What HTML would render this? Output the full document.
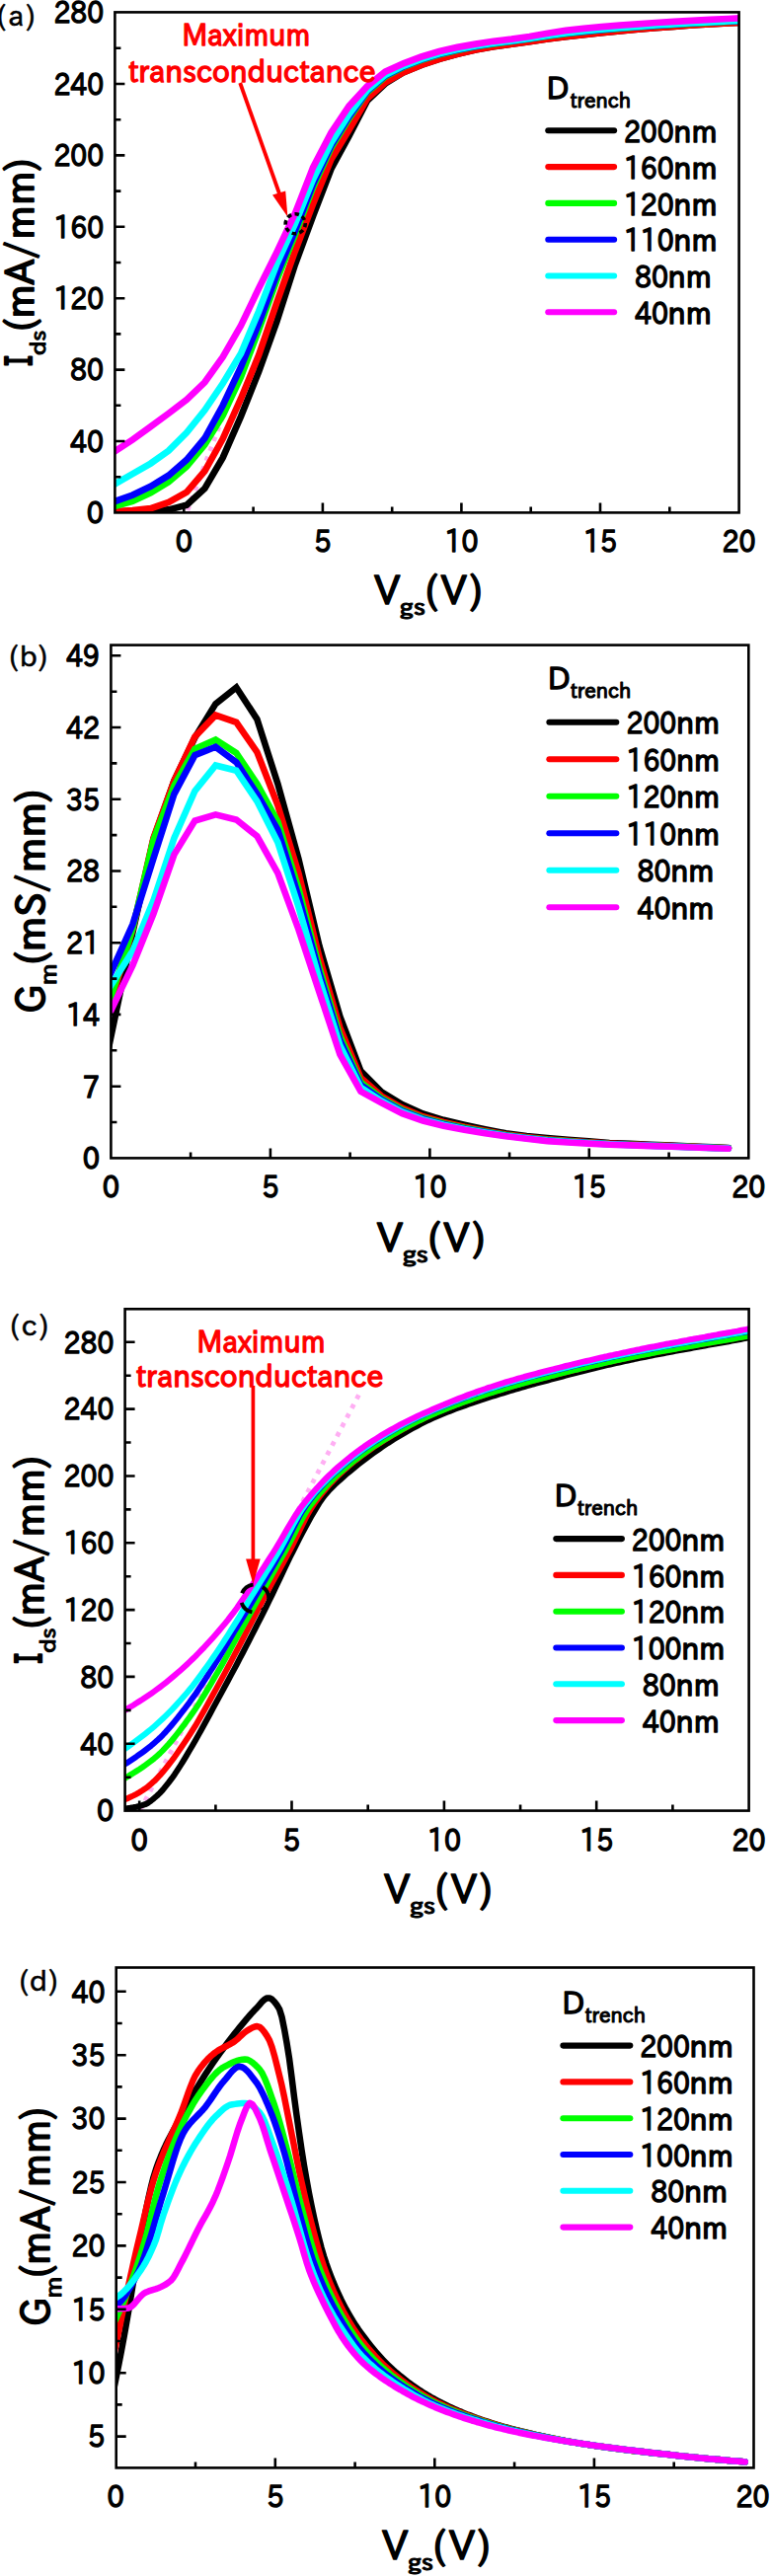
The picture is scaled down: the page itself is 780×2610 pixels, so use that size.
<!DOCTYPE html>
<html lang="en"><head><meta charset="utf-8"><title>Transfer characteristics</title>
<style>html,body{margin:0;padding:0;background:#fff}svg{display:block}</style></head>
<body>
<svg width="780" height="2610" viewBox="0 0 780 2610" font-family="IPAPGothic, IPAGothic, 'Liberation Sans', sans-serif" fill="#000" stroke-linejoin="round">
<rect width="780" height="2610" fill="#fff"/>
<path d="M190 517L296 236" stroke="#ffaef3" stroke-width="4.8" stroke-dasharray="4.6 6.1" fill="none"/>
<clipPath id="cpa"><rect x="116.4" y="12.4" width="632.2" height="507"/></clipPath>
<g clip-path="url(#cpa)" fill="none" stroke-width="6.7" stroke-linecap="butt" stroke-linejoin="miter">
<path d="M112.4 518.9 L134.3 518.3 L152.6 517.6 L170.8 516.4 L189.1 511.7 L207.4 494.9 L225.7 463.7 L244 422 L262.2 376.4 L280.5 325.3 L298.8 268.3 L317.1 218.8 L335.4 171.2 L353.6 137.7 L371.9 102.1 L390.2 84.7 L408.5 73.5 L426.8 65.8 L445 59.8 L463.3 54.7 L481.6 50.5 L499.9 47.2 L518.2 44.6 L536.4 42.1 L554.7 39.5 L573 37.1 L591.3 35.1 L609.6 33.2 L627.8 31.4 L646.1 29.7 L664.4 28.2 L682.7 26.8 L701 25.5 L719.2 24.4 L737.5 23.5 L752.6 22.7" stroke="#000000"/>
<path d="M112.4 518.2 L134.3 517 L152.6 515.2 L170.8 508.9 L189.1 498.6 L207.4 477.3 L225.7 444.6 L244 404 L262.2 359.6 L280.5 306.2 L298.8 254.7 L317.1 206.6 L335.4 161.5 L353.6 131.5 L371.9 100 L390.2 83.7 L408.5 73.3 L426.8 65.8 L445 59.8 L463.3 54.7 L481.6 50.5 L499.9 47.2 L518.2 44.6 L536.4 42.1 L554.7 39.5 L573 37.1 L591.3 35.1 L609.6 33.2 L627.8 31.4 L646.1 29.7 L664.4 28.2 L682.7 26.8 L701 25.5 L719.2 24.4 L737.5 23.5 L752.6 22.7" stroke="#ff0000"/>
<path d="M112.4 514.1 L134.3 507.8 L152.6 499.3 L170.8 488.3 L189.1 472.6 L207.4 450.5 L225.7 420.8 L244 382 L262.2 334 L280.5 283.3 L298.8 238 L317.1 189.9 L335.4 149.8 L353.6 119.9 L371.9 93.4 L390.2 77.6 L408.5 68 L426.8 60.9 L445 55.3 L463.3 50.9 L481.6 47.3 L499.9 44.4 L518.2 42 L536.4 39.5 L554.7 36.7 L573 34.1 L591.3 32.2 L609.6 30.5 L627.8 28.9 L646.1 27.4 L664.4 26.1 L682.7 24.9 L701 23.8 L719.2 22.8 L737.5 21.9 L752.6 21.2" stroke="#00ff00"/>
<path d="M112.4 509.4 L134.3 501.6 L152.6 492.9 L170.8 481.7 L189.1 465.9 L207.4 444 L225.7 410.8 L244 372 L262.2 327.5 L280.5 277.6 L298.8 233.9 L317.1 186.6 L335.4 147.6 L353.6 118 L371.9 92.5 L390.2 76.8 L408.5 67.4 L426.8 60.3 L445 54.8 L463.3 50.4 L481.6 46.9 L499.9 44 L518.2 41.7 L536.4 39.2 L554.7 36.3 L573 33.7 L591.3 31.8 L609.6 30.1 L627.8 28.5 L646.1 27.1 L664.4 25.8 L682.7 24.6 L701 23.5 L719.2 22.5 L737.5 21.6 L752.6 21" stroke="#0000ff"/>
<path d="M112.4 492.6 L134.3 480.2 L152.6 469.6 L170.8 456.7 L189.1 438.3 L207.4 415.6 L225.7 388.5 L244 358.2 L262.2 315.2 L280.5 267 L298.8 226.8 L317.1 181.8 L335.4 144.7 L353.6 115.8 L371.9 91.4 L390.2 76 L408.5 66.8 L426.8 59.8 L445 54.3 L463.3 50 L481.6 46.5 L499.9 43.7 L518.2 41.4 L536.4 38.9 L554.7 36 L573 33.4 L591.3 31.4 L609.6 29.7 L627.8 28.2 L646.1 26.8 L664.4 25.5 L682.7 24.3 L701 23.2 L719.2 22.3 L737.5 21.4 L752.6 20.7" stroke="#00ffff"/>
<path d="M112.4 459.9 L134.3 445.5 L152.6 432.3 L170.8 418.9 L189.1 404.9 L207.4 387.3 L225.7 361.7 L244 329.9 L262.2 292 L280.5 255.3 L298.8 216.5 L317.1 169.6 L335.4 134.4 L353.6 107.4 L371.9 87.4 L390.2 72.7 L408.5 64.4 L426.8 57.5 L445 52 L463.3 47.9 L481.6 44.6 L499.9 41.8 L518.2 39.6 L536.4 37 L554.7 33.8 L573 30.9 L591.3 28.8 L609.6 27.1 L627.8 25.6 L646.1 24.3 L664.4 23 L682.7 21.9 L701 20.8 L719.2 19.9 L737.5 19 L752.6 18.3" stroke="#ff00ff"/>
</g>
<rect x="116.4" y="12.4" width="632.2" height="507" fill="none" stroke="#000" stroke-width="2.6" stroke-linejoin="miter"/>
<path d="M186.3 519.4V509.4M326.9 519.4V509.4M467.4 519.4V509.4M608 519.4V509.4M256.6 519.4V513.4M397.2 519.4V513.4M537.7 519.4V513.4M678.3 519.4V513.4M116.4 447H126.4M116.4 374.6H126.4M116.4 302.2H126.4M116.4 229.8H126.4M116.4 157.4H126.4M116.4 85H126.4M116.4 483.2H122.4M116.4 410.8H122.4M116.4 338.4H122.4M116.4 266H122.4M116.4 193.6H122.4M116.4 121.2H122.4M116.4 48.8H122.4" fill="none" stroke="#000" stroke-width="2.6"/>
<text x="186.3" y="559.4" font-size="31" text-anchor="middle" textLength="17.3" lengthAdjust="spacingAndGlyphs" stroke="#000" stroke-width="1.4">0</text>
<text x="326.9" y="559.4" font-size="31" text-anchor="middle" textLength="17.3" lengthAdjust="spacingAndGlyphs" stroke="#000" stroke-width="1.4">5</text>
<text x="467.4" y="559.4" font-size="31" text-anchor="middle" textLength="34" lengthAdjust="spacingAndGlyphs" stroke="#000" stroke-width="1.4">10</text>
<text x="608" y="559.4" font-size="31" text-anchor="middle" textLength="34" lengthAdjust="spacingAndGlyphs" stroke="#000" stroke-width="1.4">15</text>
<text x="748.6" y="559.4" font-size="31" text-anchor="middle" textLength="34" lengthAdjust="spacingAndGlyphs" stroke="#000" stroke-width="1.4">20</text>
<text x="105.1" y="530.2" font-size="31" text-anchor="end" textLength="17.3" lengthAdjust="spacingAndGlyphs" stroke="#000" stroke-width="1.4">0</text>
<text x="105.1" y="457.8" font-size="31" text-anchor="end" textLength="34" lengthAdjust="spacingAndGlyphs" stroke="#000" stroke-width="1.4">40</text>
<text x="105.1" y="385.4" font-size="31" text-anchor="end" textLength="34" lengthAdjust="spacingAndGlyphs" stroke="#000" stroke-width="1.4">80</text>
<text x="105.1" y="313" font-size="31" text-anchor="end" textLength="50.7" lengthAdjust="spacingAndGlyphs" stroke="#000" stroke-width="1.4">120</text>
<text x="105.1" y="240.6" font-size="31" text-anchor="end" textLength="50.7" lengthAdjust="spacingAndGlyphs" stroke="#000" stroke-width="1.4">160</text>
<text x="105.1" y="168.2" font-size="31" text-anchor="end" textLength="50.7" lengthAdjust="spacingAndGlyphs" stroke="#000" stroke-width="1.4">200</text>
<text x="105.1" y="95.8" font-size="31" text-anchor="end" textLength="50.7" lengthAdjust="spacingAndGlyphs" stroke="#000" stroke-width="1.4">240</text>
<text x="105.1" y="23.4" font-size="31" text-anchor="end" textLength="50.7" lengthAdjust="spacingAndGlyphs" stroke="#000" stroke-width="1.4">280</text>
<text x="379.4" y="611.8" font-size="40" textLength="25.5" lengthAdjust="spacingAndGlyphs" stroke="#000" stroke-width="1.6">V</text>
<text x="404.6" y="623.3" font-size="22.5" textLength="26.3" lengthAdjust="spacingAndGlyphs" stroke="#000" stroke-width="1.1">gs</text>
<text x="430.5" y="611.8" font-size="40" textLength="58.6" lengthAdjust="spacing" stroke="#000" stroke-width="1.6">(V)</text>
<g transform="translate(34 370.3) rotate(-90)">
<text x="-2.5" y="0" font-size="39" textLength="14.5" lengthAdjust="spacingAndGlyphs" stroke="#000" stroke-width="2.2" font-family="IPAGothic, IPAPGothic, 'Liberation Serif', serif">I</text>
<text x="10.2" y="12" font-size="21" textLength="25.3" lengthAdjust="spacingAndGlyphs" stroke="#000" stroke-width="1.1">ds</text>
<text x="34.2" y="0" font-size="39" textLength="176" lengthAdjust="spacingAndGlyphs" stroke="#000" stroke-width="1.6">(mA/mm)</text>
</g>
<text x="-3.5" y="26" font-size="29" textLength="39.5" lengthAdjust="spacing" stroke="#000" stroke-width="0.6">(a)</text>
<text x="553.8" y="99.6" font-size="30" textLength="22.7" lengthAdjust="spacingAndGlyphs" stroke="#000" stroke-width="1.4">D</text>
<text x="577.5" y="108.8" font-size="20" textLength="61.5" lengthAdjust="spacingAndGlyphs" stroke="#000" stroke-width="1.1">trench</text>
<path d="M555.3 132.3H622.1" stroke="#000000" stroke-width="6.1" stroke-linecap="round" fill="none"/>
<text x="631.9" y="143.9" font-size="31" textLength="50.7" lengthAdjust="spacingAndGlyphs" stroke="#000" stroke-width="1.4">200</text>
<text x="682.3" y="143.9" font-size="30" textLength="44.3" lengthAdjust="spacingAndGlyphs" stroke="#000" stroke-width="1.4">nm</text>
<path d="M555.3 169.1H622.1" stroke="#ff0000" stroke-width="6.1" stroke-linecap="round" fill="none"/>
<text x="631.9" y="180.7" font-size="31" textLength="50.7" lengthAdjust="spacingAndGlyphs" stroke="#000" stroke-width="1.4">160</text>
<text x="682.3" y="180.7" font-size="30" textLength="44.3" lengthAdjust="spacingAndGlyphs" stroke="#000" stroke-width="1.4">nm</text>
<path d="M555.3 205.9H622.1" stroke="#00ff00" stroke-width="6.1" stroke-linecap="round" fill="none"/>
<text x="631.9" y="217.5" font-size="31" textLength="50.7" lengthAdjust="spacingAndGlyphs" stroke="#000" stroke-width="1.4">120</text>
<text x="682.3" y="217.5" font-size="30" textLength="44.3" lengthAdjust="spacingAndGlyphs" stroke="#000" stroke-width="1.4">nm</text>
<path d="M555.3 242.7H622.1" stroke="#0000ff" stroke-width="6.1" stroke-linecap="round" fill="none"/>
<text x="631.9" y="254.3" font-size="31" textLength="50.7" lengthAdjust="spacingAndGlyphs" stroke="#000" stroke-width="1.4">110</text>
<text x="682.3" y="254.3" font-size="30" textLength="44.3" lengthAdjust="spacingAndGlyphs" stroke="#000" stroke-width="1.4">nm</text>
<path d="M555.3 279.5H622.1" stroke="#00ffff" stroke-width="6.1" stroke-linecap="round" fill="none"/>
<text x="642.9" y="291.1" font-size="31" textLength="34" lengthAdjust="spacingAndGlyphs" stroke="#000" stroke-width="1.4">80</text>
<text x="676.6" y="291.1" font-size="30" textLength="44.3" lengthAdjust="spacingAndGlyphs" stroke="#000" stroke-width="1.4">nm</text>
<path d="M555.3 316.3H622.1" stroke="#ff00ff" stroke-width="6.1" stroke-linecap="round" fill="none"/>
<text x="642.9" y="327.9" font-size="31" textLength="34" lengthAdjust="spacingAndGlyphs" stroke="#000" stroke-width="1.4">40</text>
<text x="676.6" y="327.9" font-size="30" textLength="44.3" lengthAdjust="spacingAndGlyphs" stroke="#000" stroke-width="1.4">nm</text>
<text x="184.4" y="46" font-size="30" textLength="130" lengthAdjust="spacingAndGlyphs" fill="#ff0000" stroke="#ff0000" stroke-width="1.4">Maximum</text>
<text x="129.9" y="83" font-size="30" textLength="250.6" lengthAdjust="spacingAndGlyphs" fill="#ff0000" stroke="#ff0000" stroke-width="1.4">transconductance</text>
<path d="M243.2 84L283.3 197" stroke="#ff0000" stroke-width="3.8" fill="none"/>
<path d="M291.4 219.8L276 197.6L289.2 193.5Z" fill="#ff0000"/>
<circle cx="299.2" cy="226.8" r="10" fill="none" stroke="#000" stroke-width="3.6" stroke-dasharray="4.5 3.35" stroke-dashoffset="1"/>
<clipPath id="cpb"><rect x="112.4" y="653.6" width="645.9" height="519.8"/></clipPath>
<g clip-path="url(#cpb)" fill="none" stroke-width="6.6" stroke-linecap="round" stroke-linejoin="miter">
<path d="M107.4 1074.4 L113.4 1045.6 L134.4 944.8 L155.4 850.3 L176.4 791 L197.4 747.4 L218.4 713.1 L239.4 696.5 L260.4 728.7 L281.4 794.2 L302.4 870 L323.4 958.3 L344.4 1030 L365.4 1085.1 L386.4 1106.4 L407.4 1119 L428.4 1128.5 L449.4 1134.8 L470.4 1139.7 L491.4 1144.2 L512.4 1148.3 L533.4 1151.1 L554.4 1153.1 L575.4 1154.8 L596.4 1156.4 L617.4 1158 L638.4 1158.9 L659.4 1159.8 L680.4 1160.6 L701.4 1161.5 L722.4 1162.4 L737.9 1163" stroke="#000000"/>
<path d="M107.4 1032.5 L113.4 1012.4 L134.4 941.7 L155.4 849.2 L176.4 791 L197.4 746.4 L218.4 724.6 L239.4 731.8 L260.4 762 L281.4 816 L302.4 884.6 L323.4 969.8 L344.4 1041.2 L365.4 1092 L386.4 1110.5 L407.4 1122.5 L428.4 1131.2 L449.4 1137 L470.4 1141.7 L491.4 1145.7 L512.4 1149.4 L533.4 1152.1 L554.4 1154.2 L575.4 1155.8 L596.4 1157.2 L617.4 1158.6 L638.4 1159.5 L659.4 1160.3 L680.4 1161.1 L701.4 1161.9 L722.4 1162.7 L737.9 1163.3" stroke="#ff0000"/>
<path d="M107.4 1026.2 L113.4 1007.2 L134.4 940.7 L155.4 851.3 L176.4 796.2 L197.4 758.8 L218.4 749.5 L239.4 763 L260.4 794.2 L281.4 832.6 L302.4 900.1 L323.4 980.1 L344.4 1049.6 L365.4 1096.6 L386.4 1112.9 L407.4 1124.5 L428.4 1132.7 L449.4 1138.3 L470.4 1142.8 L491.4 1146.6 L512.4 1150.1 L533.4 1152.7 L554.4 1154.9 L575.4 1156.4 L596.4 1157.7 L617.4 1159 L638.4 1159.8 L659.4 1160.6 L680.4 1161.3 L701.4 1162.1 L722.4 1162.9 L737.9 1163.4" stroke="#00ff00"/>
<path d="M107.4 996.6 L113.4 983.3 L134.4 936.5 L155.4 870 L176.4 804.6 L197.4 765.1 L218.4 756.8 L239.4 772.3 L260.4 804.6 L281.4 840.9 L302.4 908.5 L323.4 985.7 L344.4 1054.2 L365.4 1099.1 L386.4 1114.2 L407.4 1125.6 L428.4 1133.5 L449.4 1139.1 L470.4 1143.4 L491.4 1147.1 L512.4 1150.4 L533.4 1153 L554.4 1155.2 L575.4 1156.7 L596.4 1158 L617.4 1159.2 L638.4 1160 L659.4 1160.7 L680.4 1161.5 L701.4 1162.2 L722.4 1163 L737.9 1163.5" stroke="#0000ff"/>
<path d="M107.4 1006.3 L113.4 996.8 L134.4 963.5 L155.4 912.6 L176.4 849.2 L197.4 801.4 L218.4 775.5 L239.4 780.7 L260.4 811.8 L281.4 853.4 L302.4 918.8 L323.4 992 L344.4 1059.2 L365.4 1101.7 L386.4 1115.5 L407.4 1126.7 L428.4 1134.4 L449.4 1139.8 L470.4 1144 L491.4 1147.6 L512.4 1150.8 L533.4 1153.3 L554.4 1155.6 L575.4 1157 L596.4 1158.2 L617.4 1159.4 L638.4 1160.2 L659.4 1160.9 L680.4 1161.6 L701.4 1162.4 L722.4 1163.1 L737.9 1163.6" stroke="#00ffff"/>
<path d="M107.4 1034.2 L113.4 1021.7 L134.4 978.1 L155.4 926.1 L176.4 865.9 L197.4 831.6 L218.4 825.3 L239.4 830.5 L260.4 847.2 L281.4 884.6 L302.4 941.7 L323.4 1005.1 L344.4 1068.5 L365.4 1105.9 L386.4 1117.3 L407.4 1128.2 L428.4 1135.5 L449.4 1140.7 L470.4 1144.8 L491.4 1148.2 L512.4 1151.2 L533.4 1153.8 L554.4 1156.1 L575.4 1157.5 L596.4 1158.6 L617.4 1159.7 L638.4 1160.4 L659.4 1161.1 L680.4 1161.8 L701.4 1162.5 L722.4 1163.2 L737.9 1163.7" stroke="#ff00ff"/>
</g>
<rect x="112.4" y="653.6" width="645.9" height="519.8" fill="none" stroke="#000" stroke-width="2.6" stroke-linejoin="miter"/>
<path d="M273.9 1173.4V1163.4M435.4 1173.4V1163.4M596.8 1173.4V1163.4M193.1 1173.4V1167.4M354.6 1173.4V1167.4M516.1 1173.4V1167.4M677.6 1173.4V1167.4M112.4 1100.7H122.4M112.4 1027.9H122.4M112.4 955.2H122.4M112.4 882.5H122.4M112.4 809.8H122.4M112.4 737H122.4M112.4 664.3H122.4M112.4 1137H118.4M112.4 1064.3H118.4M112.4 991.6H118.4M112.4 918.8H118.4M112.4 846.1H118.4M112.4 773.4H118.4M112.4 700.7H118.4" fill="none" stroke="#000" stroke-width="2.6"/>
<text x="112.4" y="1213.4" font-size="31" text-anchor="middle" textLength="17.3" lengthAdjust="spacingAndGlyphs" stroke="#000" stroke-width="1.4">0</text>
<text x="273.9" y="1213.4" font-size="31" text-anchor="middle" textLength="17.3" lengthAdjust="spacingAndGlyphs" stroke="#000" stroke-width="1.4">5</text>
<text x="435.4" y="1213.4" font-size="31" text-anchor="middle" textLength="34" lengthAdjust="spacingAndGlyphs" stroke="#000" stroke-width="1.4">10</text>
<text x="596.8" y="1213.4" font-size="31" text-anchor="middle" textLength="34" lengthAdjust="spacingAndGlyphs" stroke="#000" stroke-width="1.4">15</text>
<text x="758.3" y="1213.4" font-size="31" text-anchor="middle" textLength="34" lengthAdjust="spacingAndGlyphs" stroke="#000" stroke-width="1.4">20</text>
<text x="101.1" y="1184.2" font-size="31" text-anchor="end" textLength="17.3" lengthAdjust="spacingAndGlyphs" stroke="#000" stroke-width="1.4">0</text>
<text x="101.1" y="1111.5" font-size="31" text-anchor="end" textLength="17.3" lengthAdjust="spacingAndGlyphs" stroke="#000" stroke-width="1.4">7</text>
<text x="101.1" y="1038.7" font-size="31" text-anchor="end" textLength="34" lengthAdjust="spacingAndGlyphs" stroke="#000" stroke-width="1.4">14</text>
<text x="101.1" y="966" font-size="31" text-anchor="end" textLength="34" lengthAdjust="spacingAndGlyphs" stroke="#000" stroke-width="1.4">21</text>
<text x="101.1" y="893.3" font-size="31" text-anchor="end" textLength="34" lengthAdjust="spacingAndGlyphs" stroke="#000" stroke-width="1.4">28</text>
<text x="101.1" y="820.5" font-size="31" text-anchor="end" textLength="34" lengthAdjust="spacingAndGlyphs" stroke="#000" stroke-width="1.4">35</text>
<text x="101.1" y="747.8" font-size="31" text-anchor="end" textLength="34" lengthAdjust="spacingAndGlyphs" stroke="#000" stroke-width="1.4">42</text>
<text x="101.1" y="675.1" font-size="31" text-anchor="end" textLength="34" lengthAdjust="spacingAndGlyphs" stroke="#000" stroke-width="1.4">49</text>
<text x="382.2" y="1267.9" font-size="40" textLength="25.5" lengthAdjust="spacingAndGlyphs" stroke="#000" stroke-width="1.6">V</text>
<text x="407.4" y="1279.4" font-size="22.5" textLength="26.3" lengthAdjust="spacingAndGlyphs" stroke="#000" stroke-width="1.1">gs</text>
<text x="433.3" y="1267.9" font-size="40" textLength="58.6" lengthAdjust="spacing" stroke="#000" stroke-width="1.6">(V)</text>
<g transform="translate(45.2 1025.3) rotate(-90)">
<text x="-1.2" y="0" font-size="39.5" textLength="28.5" lengthAdjust="spacingAndGlyphs" stroke="#000" stroke-width="1.6">G</text>
<text x="27" y="12" font-size="23" textLength="22" lengthAdjust="spacingAndGlyphs" stroke="#000" stroke-width="1.1">m</text>
<text x="47.5" y="0" font-size="39" textLength="178.5" lengthAdjust="spacingAndGlyphs" stroke="#000" stroke-width="1.6">(mS/mm)</text>
</g>
<text x="9" y="675.4" font-size="29" textLength="39.5" lengthAdjust="spacing" stroke="#000" stroke-width="0.6">(b)</text>
<text x="554.9" y="698.2" font-size="30" textLength="22.7" lengthAdjust="spacingAndGlyphs" stroke="#000" stroke-width="1.4">D</text>
<text x="577.8" y="707" font-size="20" textLength="61.5" lengthAdjust="spacingAndGlyphs" stroke="#000" stroke-width="1.1">trench</text>
<path d="M556.4 731.7H624.3" stroke="#000000" stroke-width="6.1" stroke-linecap="round" fill="none"/>
<text x="634.5" y="743.3" font-size="31" textLength="50.7" lengthAdjust="spacingAndGlyphs" stroke="#000" stroke-width="1.4">200</text>
<text x="684.9" y="743.3" font-size="30" textLength="44.3" lengthAdjust="spacingAndGlyphs" stroke="#000" stroke-width="1.4">nm</text>
<path d="M556.4 769.2H624.3" stroke="#ff0000" stroke-width="6.1" stroke-linecap="round" fill="none"/>
<text x="634.5" y="780.8" font-size="31" textLength="50.7" lengthAdjust="spacingAndGlyphs" stroke="#000" stroke-width="1.4">160</text>
<text x="684.9" y="780.8" font-size="30" textLength="44.3" lengthAdjust="spacingAndGlyphs" stroke="#000" stroke-width="1.4">nm</text>
<path d="M556.4 806.7H624.3" stroke="#00ff00" stroke-width="6.1" stroke-linecap="round" fill="none"/>
<text x="634.5" y="818.3" font-size="31" textLength="50.7" lengthAdjust="spacingAndGlyphs" stroke="#000" stroke-width="1.4">120</text>
<text x="684.9" y="818.3" font-size="30" textLength="44.3" lengthAdjust="spacingAndGlyphs" stroke="#000" stroke-width="1.4">nm</text>
<path d="M556.4 844.2H624.3" stroke="#0000ff" stroke-width="6.1" stroke-linecap="round" fill="none"/>
<text x="634.5" y="855.8" font-size="31" textLength="50.7" lengthAdjust="spacingAndGlyphs" stroke="#000" stroke-width="1.4">110</text>
<text x="684.9" y="855.8" font-size="30" textLength="44.3" lengthAdjust="spacingAndGlyphs" stroke="#000" stroke-width="1.4">nm</text>
<path d="M556.4 881.7H624.3" stroke="#00ffff" stroke-width="6.1" stroke-linecap="round" fill="none"/>
<text x="645.5" y="893.3" font-size="31" textLength="34" lengthAdjust="spacingAndGlyphs" stroke="#000" stroke-width="1.4">80</text>
<text x="679.2" y="893.3" font-size="30" textLength="44.3" lengthAdjust="spacingAndGlyphs" stroke="#000" stroke-width="1.4">nm</text>
<path d="M556.4 919.2H624.3" stroke="#ff00ff" stroke-width="6.1" stroke-linecap="round" fill="none"/>
<text x="645.5" y="930.8" font-size="31" textLength="34" lengthAdjust="spacingAndGlyphs" stroke="#000" stroke-width="1.4">40</text>
<text x="679.2" y="930.8" font-size="30" textLength="44.3" lengthAdjust="spacingAndGlyphs" stroke="#000" stroke-width="1.4">nm</text>
<path d="M142 1834L366 1408.5" stroke="#ffaef3" stroke-width="4.8" stroke-dasharray="4.6 6.1" fill="none"/>
<clipPath id="cpc"><rect x="126.6" y="1326.3" width="632" height="508.3"/></clipPath>
<g clip-path="url(#cpc)" fill="none" stroke-width="6.0" stroke-linecap="butt" stroke-linejoin="round">
<path d="M120 1833.5 L123 1833.1 L126 1832.7 L129 1832.2 L132 1831.8 L135 1831.3 L138 1830.7 L141 1830 L144 1829.2 L147 1828.2 L150 1826.7 L153 1824.5 L156 1822.1 L159 1819.5 L162 1816.6 L165 1813.4 L168 1809.7 L171 1805.9 L174 1801.9 L177 1797.7 L180 1793.2 L183 1788.5 L186 1783.6 L189 1778.6 L192 1773.5 L195 1768.5 L198 1763.3 L201 1757.9 L204 1752.5 L207 1747 L210 1741.5 L213 1736 L216 1730.4 L219 1724.9 L222 1719.4 L225 1713.8 L228 1708.3 L231 1702.8 L234 1697.2 L237 1691.6 L240 1686 L243 1680.2 L246 1674.5 L249 1668.7 L252 1662.9 L255 1657 L258 1651.1 L261 1645.2 L264 1639.3 L267 1633.3 L270 1627.3 L273 1621.2 L276 1615.1 L279 1608.8 L282 1602.5 L285 1596.2 L288 1589.8 L291 1583.5 L294 1577.3 L297 1571.3 L300 1565.4 L303 1559.5 L306 1553.7 L309 1548 L312 1542.5 L315 1537.1 L318 1532 L321 1526.9 L324 1522 L327 1517.7 L330 1513.9 L333 1510.5 L336 1507.4 L339 1504.4 L342 1501.6 L345 1498.9 L348 1496.2 L351 1493.6 L354 1491.1 L357 1488.6 L360 1486.1 L363 1483.7 L366 1481.4 L369 1479.1 L372 1476.8 L375 1474.6 L378 1472.4 L381 1470.3 L384 1468.2 L387 1466.1 L390 1464.1 L393 1462.1 L396 1460.2 L399 1458.3 L402 1456.5 L405 1454.7 L408 1452.9 L411 1451.1 L414 1449.4 L417 1447.7 L420 1446.1 L423 1444.5 L426 1442.9 L429 1441.4 L432 1439.9 L435 1438.5 L438 1437.1 L441 1435.8 L444 1434.5 L447 1433.2 L450 1432 L453 1430.8 L456 1429.6 L459 1428.4 L462 1427.3 L465 1426.2 L468 1425.1 L471 1424.1 L474 1423 L477 1422 L480 1420.9 L483 1419.9 L486 1418.9 L489 1418 L492 1417 L495 1416 L498 1415 L501 1414.1 L504 1413.1 L507 1412.2 L510 1411.3 L513 1410.4 L516 1409.4 L519 1408.6 L522 1407.7 L525 1406.8 L528 1405.9 L531 1405.1 L534 1404.2 L537 1403.4 L540 1402.5 L543 1401.7 L546 1400.9 L549 1400.1 L552 1399.3 L555 1398.5 L558 1397.7 L561 1396.9 L564 1396.1 L567 1395.3 L570 1394.5 L573 1393.7 L576 1392.9 L579 1392.2 L582 1391.4 L585 1390.6 L588 1389.9 L591 1389.1 L594 1388.3 L597 1387.6 L600 1386.9 L603 1386.1 L606 1385.4 L609 1384.7 L612 1383.9 L615 1383.2 L618 1382.5 L621 1381.8 L624 1381.1 L627 1380.5 L630 1379.8 L633 1379.1 L636 1378.5 L639 1377.8 L642 1377.2 L645 1376.5 L648 1375.9 L651 1375.3 L654 1374.7 L657 1374.1 L660 1373.5 L663 1372.9 L666 1372.3 L669 1371.7 L672 1371.2 L675 1370.6 L678 1370 L681 1369.5 L684 1368.9 L687 1368.3 L690 1367.8 L693 1367.2 L696 1366.7 L699 1366.2 L702 1365.6 L705 1365.1 L708 1364.5 L711 1364 L714 1363.5 L717 1362.9 L720 1362.4 L723 1361.9 L726 1361.3 L729 1360.8 L732 1360.2 L735 1359.7 L738 1359.2 L741 1358.6 L744 1358.1 L747 1357.5 L750 1357 L753 1356.4 L756 1355.9 L759 1355.3 L762 1354.8 L765 1354.2 L768 1353.7" stroke="#000000"/>
<path d="M120 1825.5 L123 1824.5 L126 1823.4 L129 1822.2 L132 1820.8 L135 1819.4 L138 1817.8 L141 1816.1 L144 1814.3 L147 1812.3 L150 1810.1 L153 1807.5 L156 1804.8 L159 1801.8 L162 1798.7 L165 1795.3 L168 1791.7 L171 1787.9 L174 1784 L177 1779.9 L180 1775.6 L183 1771.3 L186 1766.9 L189 1762.4 L192 1757.9 L195 1753.2 L198 1748.4 L201 1743.3 L204 1738.1 L207 1732.8 L210 1727.4 L213 1722 L216 1716.5 L219 1711.1 L222 1705.6 L225 1700.1 L228 1694.6 L231 1689 L234 1683.4 L237 1677.7 L240 1672 L243 1666.3 L246 1660.5 L249 1654.7 L252 1648.8 L255 1643 L258 1637.1 L261 1631.3 L264 1625.5 L267 1619.8 L270 1614.2 L273 1608.6 L276 1603.1 L279 1597.6 L282 1592.2 L285 1586.7 L288 1581.2 L291 1575.6 L294 1570 L297 1564.1 L300 1558 L303 1551.7 L306 1545.5 L309 1539.4 L312 1533.7 L315 1528.5 L318 1524 L321 1519.8 L324 1515.9 L327 1512.1 L330 1508.5 L333 1505.1 L336 1501.8 L339 1498.7 L342 1495.7 L345 1492.8 L348 1490 L351 1487.4 L354 1484.8 L357 1482.3 L360 1479.8 L363 1477.5 L366 1475.2 L369 1473 L372 1470.8 L375 1468.7 L378 1466.6 L381 1464.6 L384 1462.6 L387 1460.7 L390 1458.8 L393 1457 L396 1455.1 L399 1453.3 L402 1451.6 L405 1449.8 L408 1448.1 L411 1446.5 L414 1444.8 L417 1443.2 L420 1441.7 L423 1440.1 L426 1438.7 L429 1437.2 L432 1435.8 L435 1434.4 L438 1433.1 L441 1431.8 L444 1430.5 L447 1429.3 L450 1428 L453 1426.8 L456 1425.6 L459 1424.5 L462 1423.3 L465 1422.2 L468 1421.1 L471 1420 L474 1419 L477 1417.9 L480 1416.9 L483 1415.9 L486 1414.8 L489 1413.9 L492 1412.9 L495 1411.9 L498 1411 L501 1410 L504 1409.1 L507 1408.2 L510 1407.2 L513 1406.3 L516 1405.5 L519 1404.6 L522 1403.7 L525 1402.9 L528 1402 L531 1401.2 L534 1400.4 L537 1399.6 L540 1398.8 L543 1398 L546 1397.2 L549 1396.4 L552 1395.6 L555 1394.8 L558 1394.1 L561 1393.3 L564 1392.5 L567 1391.8 L570 1391 L573 1390.3 L576 1389.5 L579 1388.8 L582 1388.1 L585 1387.3 L588 1386.6 L591 1385.9 L594 1385.1 L597 1384.4 L600 1383.7 L603 1383 L606 1382.3 L609 1381.6 L612 1380.9 L615 1380.3 L618 1379.6 L621 1378.9 L624 1378.3 L627 1377.6 L630 1377 L633 1376.3 L636 1375.7 L639 1375.1 L642 1374.5 L645 1373.8 L648 1373.2 L651 1372.7 L654 1372.1 L657 1371.5 L660 1370.9 L663 1370.3 L666 1369.8 L669 1369.2 L672 1368.7 L675 1368.1 L678 1367.6 L681 1367 L684 1366.5 L687 1365.9 L690 1365.4 L693 1364.9 L696 1364.4 L699 1363.8 L702 1363.3 L705 1362.8 L708 1362.3 L711 1361.7 L714 1361.2 L717 1360.7 L720 1360.2 L723 1359.6 L726 1359.1 L729 1358.6 L732 1358.1 L735 1357.5 L738 1357 L741 1356.5 L744 1356 L747 1355.4 L750 1354.9 L753 1354.3 L756 1353.8 L759 1353.2 L762 1352.7 L765 1352.1 L768 1351.6" stroke="#ff0000"/>
<path d="M120 1805.5 L123 1803.8 L126 1802.1 L129 1800.3 L132 1798.4 L135 1796.5 L138 1794.6 L141 1792.7 L144 1790.7 L147 1788.6 L150 1786.4 L153 1784.2 L156 1781.8 L159 1779.2 L162 1776.5 L165 1773.5 L168 1770.3 L171 1767 L174 1763.5 L177 1759.8 L180 1756 L183 1752.1 L186 1748.2 L189 1744.1 L192 1740 L195 1735.8 L198 1731.4 L201 1726.8 L204 1722 L207 1717.1 L210 1712.1 L213 1707.1 L216 1702 L219 1696.8 L222 1691.7 L225 1686.4 L228 1681 L231 1675.5 L234 1669.9 L237 1664.4 L240 1658.9 L243 1653.5 L246 1648.1 L249 1642.7 L252 1637.4 L255 1632 L258 1626.6 L261 1621.3 L264 1615.9 L267 1610.6 L270 1605.2 L273 1599.9 L276 1594.6 L279 1589.3 L282 1583.9 L285 1578.6 L288 1573.2 L291 1567.8 L294 1562.2 L297 1556.4 L300 1550.5 L303 1544.7 L306 1539.1 L309 1533.8 L312 1528.9 L315 1524.6 L318 1520.6 L321 1516.8 L324 1513.2 L327 1509.7 L330 1506.4 L333 1503.2 L336 1500.1 L339 1497.2 L342 1494.3 L345 1491.6 L348 1488.9 L351 1486.4 L354 1483.9 L357 1481.4 L360 1479.1 L363 1476.8 L366 1474.5 L369 1472.3 L372 1470.2 L375 1468.1 L378 1466.1 L381 1464.1 L384 1462.2 L387 1460.3 L390 1458.4 L393 1456.6 L396 1454.8 L399 1453 L402 1451.3 L405 1449.6 L408 1447.9 L411 1446.3 L414 1444.7 L417 1443.1 L420 1441.6 L423 1440.1 L426 1438.7 L429 1437.2 L432 1435.8 L435 1434.5 L438 1433.2 L441 1431.9 L444 1430.6 L447 1429.4 L450 1428.2 L453 1427 L456 1425.8 L459 1424.6 L462 1423.5 L465 1422.4 L468 1421.3 L471 1420.2 L474 1419.1 L477 1418.1 L480 1417 L483 1416 L486 1415 L489 1414 L492 1413 L495 1412 L498 1411.1 L501 1410.1 L504 1409.2 L507 1408.3 L510 1407.4 L513 1406.5 L516 1405.6 L519 1404.7 L522 1403.9 L525 1403 L528 1402.2 L531 1401.4 L534 1400.5 L537 1399.7 L540 1398.9 L543 1398.1 L546 1397.3 L549 1396.5 L552 1395.8 L555 1395 L558 1394.2 L561 1393.5 L564 1392.7 L567 1391.9 L570 1391.2 L573 1390.4 L576 1389.7 L579 1388.9 L582 1388.2 L585 1387.5 L588 1386.7 L591 1386 L594 1385.3 L597 1384.6 L600 1383.9 L603 1383.2 L606 1382.5 L609 1381.8 L612 1381.1 L615 1380.4 L618 1379.7 L621 1379.1 L624 1378.4 L627 1377.8 L630 1377.1 L633 1376.5 L636 1375.9 L639 1375.2 L642 1374.6 L645 1374 L648 1373.4 L651 1372.8 L654 1372.2 L657 1371.7 L660 1371.1 L663 1370.5 L666 1369.9 L669 1369.4 L672 1368.8 L675 1368.3 L678 1367.7 L681 1367.2 L684 1366.7 L687 1366.1 L690 1365.6 L693 1365.1 L696 1364.5 L699 1364 L702 1363.5 L705 1363 L708 1362.4 L711 1361.9 L714 1361.4 L717 1360.9 L720 1360.4 L723 1359.8 L726 1359.3 L729 1358.8 L732 1358.3 L735 1357.7 L738 1357.2 L741 1356.7 L744 1356.2 L747 1355.6 L750 1355.1 L753 1354.5 L756 1354 L759 1353.4 L762 1352.9 L765 1352.3 L768 1351.8" stroke="#00ff00"/>
<path d="M120 1791.5 L123 1789.7 L126 1787.8 L129 1785.9 L132 1783.9 L135 1781.9 L138 1779.9 L141 1777.8 L144 1775.7 L147 1773.5 L150 1771.2 L153 1768.8 L156 1766.2 L159 1763.6 L162 1760.8 L165 1757.8 L168 1754.6 L171 1751.2 L174 1747.7 L177 1744.1 L180 1740.4 L183 1736.5 L186 1732.7 L189 1728.7 L192 1724.8 L195 1720.6 L198 1716.4 L201 1712 L204 1707.4 L207 1702.8 L210 1698.2 L213 1693.5 L216 1688.7 L219 1683.9 L222 1679.1 L225 1674.1 L228 1669 L231 1663.9 L234 1658.7 L237 1653.6 L240 1648.6 L243 1643.6 L246 1638.6 L249 1633.6 L252 1628.6 L255 1623.6 L258 1618.5 L261 1613.4 L264 1608.3 L267 1603.2 L270 1598 L273 1592.9 L276 1587.7 L279 1582.4 L282 1577.1 L285 1571.8 L288 1566.3 L291 1560.5 L294 1554.5 L297 1548.4 L300 1542.4 L303 1536.6 L306 1531.3 L309 1526.6 L312 1522.4 L315 1518.5 L318 1514.7 L321 1511.1 L324 1507.7 L327 1504.4 L330 1501.2 L333 1498.2 L336 1495.2 L339 1492.4 L342 1489.7 L345 1487 L348 1484.4 L351 1481.9 L354 1479.4 L357 1477 L360 1474.7 L363 1472.4 L366 1470.2 L369 1468 L372 1465.9 L375 1463.8 L378 1461.8 L381 1459.9 L384 1457.9 L387 1456 L390 1454.2 L393 1452.4 L396 1450.6 L399 1448.9 L402 1447.2 L405 1445.5 L408 1443.9 L411 1442.3 L414 1440.8 L417 1439.2 L420 1437.8 L423 1436.3 L426 1434.9 L429 1433.5 L432 1432.1 L435 1430.8 L438 1429.5 L441 1428.2 L444 1426.9 L447 1425.6 L450 1424.4 L453 1423.2 L456 1421.9 L459 1420.7 L462 1419.6 L465 1418.4 L468 1417.3 L471 1416.1 L474 1415 L477 1413.9 L480 1412.8 L483 1411.8 L486 1410.7 L489 1409.7 L492 1408.7 L495 1407.7 L498 1406.7 L501 1405.7 L504 1404.8 L507 1403.9 L510 1402.9 L513 1402 L516 1401.1 L519 1400.3 L522 1399.4 L525 1398.5 L528 1397.7 L531 1396.9 L534 1396 L537 1395.2 L540 1394.4 L543 1393.6 L546 1392.8 L549 1392 L552 1391.3 L555 1390.5 L558 1389.7 L561 1389 L564 1388.2 L567 1387.5 L570 1386.7 L573 1386 L576 1385.2 L579 1384.5 L582 1383.7 L585 1383 L588 1382.3 L591 1381.6 L594 1380.9 L597 1380.2 L600 1379.5 L603 1378.8 L606 1378.1 L609 1377.4 L612 1376.8 L615 1376.1 L618 1375.4 L621 1374.8 L624 1374.1 L627 1373.5 L630 1372.8 L633 1372.2 L636 1371.6 L639 1370.9 L642 1370.3 L645 1369.7 L648 1369.1 L651 1368.5 L654 1367.9 L657 1367.3 L660 1366.7 L663 1366.1 L666 1365.6 L669 1365 L672 1364.4 L675 1363.9 L678 1363.3 L681 1362.7 L684 1362.2 L687 1361.6 L690 1361.1 L693 1360.5 L696 1360 L699 1359.5 L702 1358.9 L705 1358.4 L708 1357.8 L711 1357.3 L714 1356.8 L717 1356.2 L720 1355.7 L723 1355.2 L726 1354.6 L729 1354.1 L732 1353.5 L735 1353 L738 1352.5 L741 1351.9 L744 1351.4 L747 1350.8 L750 1350.3 L753 1349.7 L756 1349.2 L759 1348.6 L762 1348.1 L765 1347.5 L768 1347" stroke="#0000ff"/>
<path d="M120 1776.5 L123 1774.4 L126 1772.3 L129 1770.2 L132 1768 L135 1765.8 L138 1763.6 L141 1761.4 L144 1759.1 L147 1756.8 L150 1754.4 L153 1752 L156 1749.4 L159 1746.8 L162 1744.1 L165 1741.3 L168 1738.4 L171 1735.4 L174 1732.3 L177 1729.1 L180 1725.8 L183 1722.5 L186 1719.1 L189 1715.6 L192 1712 L195 1708.3 L198 1704.4 L201 1700.4 L204 1696.3 L207 1692.1 L210 1687.9 L213 1683.6 L216 1679.2 L219 1674.9 L222 1670.4 L225 1665.9 L228 1661.2 L231 1656.5 L234 1651.7 L237 1646.9 L240 1642.1 L243 1637.2 L246 1632.1 L249 1627.1 L252 1622 L255 1617 L258 1612.1 L261 1607.2 L264 1602.3 L267 1597.4 L270 1592.5 L273 1587.6 L276 1582.6 L279 1577.6 L282 1572.6 L285 1567.4 L288 1561.9 L291 1556.2 L294 1550.4 L297 1544.7 L300 1539.2 L303 1533.9 L306 1529 L309 1524.7 L312 1520.8 L315 1517 L318 1513.4 L321 1509.9 L324 1506.6 L327 1503.4 L330 1500.3 L333 1497.3 L336 1494.4 L339 1491.6 L342 1488.9 L345 1486.2 L348 1483.7 L351 1481.2 L354 1478.7 L357 1476.3 L360 1474 L363 1471.8 L366 1469.6 L369 1467.4 L372 1465.3 L375 1463.2 L378 1461.2 L381 1459.3 L384 1457.4 L387 1455.5 L390 1453.6 L393 1451.8 L396 1450.1 L399 1448.4 L402 1446.7 L405 1445 L408 1443.4 L411 1441.8 L414 1440.3 L417 1438.8 L420 1437.3 L423 1435.9 L426 1434.4 L429 1433.1 L432 1431.7 L435 1430.4 L438 1429.1 L441 1427.8 L444 1426.5 L447 1425.2 L450 1424 L453 1422.8 L456 1421.5 L459 1420.3 L462 1419.2 L465 1418 L468 1416.8 L471 1415.7 L474 1414.6 L477 1413.5 L480 1412.4 L483 1411.3 L486 1410.3 L489 1409.3 L492 1408.2 L495 1407.2 L498 1406.3 L501 1405.3 L504 1404.4 L507 1403.4 L510 1402.5 L513 1401.6 L516 1400.7 L519 1399.8 L522 1399 L525 1398.1 L528 1397.3 L531 1396.4 L534 1395.6 L537 1394.8 L540 1394 L543 1393.2 L546 1392.4 L549 1391.6 L552 1390.9 L555 1390.1 L558 1389.3 L561 1388.6 L564 1387.8 L567 1387.1 L570 1386.3 L573 1385.6 L576 1384.8 L579 1384.1 L582 1383.4 L585 1382.6 L588 1381.9 L591 1381.2 L594 1380.5 L597 1379.8 L600 1379.1 L603 1378.4 L606 1377.7 L609 1377.1 L612 1376.4 L615 1375.7 L618 1375.1 L621 1374.4 L624 1373.8 L627 1373.1 L630 1372.5 L633 1371.8 L636 1371.2 L639 1370.6 L642 1370 L645 1369.4 L648 1368.8 L651 1368.2 L654 1367.6 L657 1367 L660 1366.4 L663 1365.8 L666 1365.2 L669 1364.7 L672 1364.1 L675 1363.5 L678 1363 L681 1362.4 L684 1361.9 L687 1361.3 L690 1360.8 L693 1360.2 L696 1359.7 L699 1359.1 L702 1358.6 L705 1358.1 L708 1357.5 L711 1357 L714 1356.4 L717 1355.9 L720 1355.4 L723 1354.8 L726 1354.3 L729 1353.8 L732 1353.2 L735 1352.7 L738 1352.1 L741 1351.6 L744 1351.1 L747 1350.5 L750 1350 L753 1349.4 L756 1348.9 L759 1348.3 L762 1347.8 L765 1347.2 L768 1346.6" stroke="#00ffff"/>
<path d="M120 1737 L123 1735.2 L126 1733.3 L129 1731.4 L132 1729.5 L135 1727.7 L138 1725.8 L141 1723.9 L144 1722 L147 1720 L150 1718 L153 1716 L156 1713.9 L159 1711.7 L162 1709.5 L165 1707.2 L168 1704.8 L171 1702.4 L174 1699.9 L177 1697.4 L180 1694.8 L183 1692.2 L186 1689.5 L189 1686.7 L192 1683.9 L195 1681 L198 1678.1 L201 1675 L204 1671.9 L207 1668.8 L210 1665.5 L213 1662.2 L216 1658.9 L219 1655.5 L222 1652 L225 1648.4 L228 1644.8 L231 1641.1 L234 1637.2 L237 1633.3 L240 1629.2 L243 1624.8 L246 1620.3 L249 1615.8 L252 1611.3 L255 1606.7 L258 1602.1 L261 1597.6 L264 1592.9 L267 1588.3 L270 1583.6 L273 1579 L276 1574.3 L279 1569.5 L282 1564.5 L285 1559.4 L288 1554.2 L291 1549 L294 1543.9 L297 1539 L300 1534.2 L303 1529.8 L306 1525.6 L309 1521.8 L312 1518.2 L315 1514.6 L318 1511.1 L321 1507.7 L324 1504.5 L327 1501.3 L330 1498.2 L333 1495.2 L336 1492.3 L339 1489.5 L342 1486.8 L345 1484.2 L348 1481.7 L351 1479.2 L354 1476.8 L357 1474.4 L360 1472.2 L363 1469.9 L366 1467.8 L369 1465.6 L372 1463.6 L375 1461.6 L378 1459.6 L381 1457.7 L384 1455.8 L387 1453.9 L390 1452.1 L393 1450.4 L396 1448.7 L399 1447 L402 1445.3 L405 1443.7 L408 1442.1 L411 1440.6 L414 1439.1 L417 1437.6 L420 1436.2 L423 1434.8 L426 1433.4 L429 1432 L432 1430.7 L435 1429.4 L438 1428.1 L441 1426.8 L444 1425.5 L447 1424.2 L450 1423 L453 1421.7 L456 1420.5 L459 1419.3 L462 1418.1 L465 1416.9 L468 1415.7 L471 1414.6 L474 1413.4 L477 1412.3 L480 1411.2 L483 1410.1 L486 1409 L489 1408 L492 1407 L495 1405.9 L498 1405 L501 1404 L504 1403 L507 1402.1 L510 1401.2 L513 1400.2 L516 1399.3 L519 1398.5 L522 1397.6 L525 1396.7 L528 1395.9 L531 1395 L534 1394.2 L537 1393.4 L540 1392.6 L543 1391.8 L546 1391 L549 1390.2 L552 1389.4 L555 1388.6 L558 1387.8 L561 1387.1 L564 1386.3 L567 1385.6 L570 1384.8 L573 1384 L576 1383.3 L579 1382.6 L582 1381.8 L585 1381.1 L588 1380.4 L591 1379.7 L594 1379 L597 1378.3 L600 1377.6 L603 1376.9 L606 1376.2 L609 1375.5 L612 1374.8 L615 1374.2 L618 1373.5 L621 1372.9 L624 1372.2 L627 1371.6 L630 1370.9 L633 1370.3 L636 1369.6 L639 1369 L642 1368.4 L645 1367.8 L648 1367.2 L651 1366.5 L654 1365.9 L657 1365.3 L660 1364.7 L663 1364.2 L666 1363.6 L669 1363 L672 1362.4 L675 1361.8 L678 1361.3 L681 1360.7 L684 1360.1 L687 1359.6 L690 1359 L693 1358.4 L696 1357.9 L699 1357.3 L702 1356.8 L705 1356.2 L708 1355.7 L711 1355.1 L714 1354.6 L717 1354 L720 1353.5 L723 1352.9 L726 1352.4 L729 1351.8 L732 1351.3 L735 1350.8 L738 1350.2 L741 1349.7 L744 1349.1 L747 1348.6 L750 1348 L753 1347.4 L756 1346.9 L759 1346.3 L762 1345.8 L765 1345.2 L768 1344.7" stroke="#ff00ff"/>
</g>
<rect x="126.6" y="1326.3" width="632" height="508.3" fill="none" stroke="#000" stroke-width="2.6" stroke-linejoin="miter"/>
<path d="M141.2 1834.6V1824.6M295.5 1834.6V1824.6M449.9 1834.6V1824.6M604.2 1834.6V1824.6M218.4 1834.6V1828.6M372.7 1834.6V1828.6M527.1 1834.6V1828.6M681.4 1834.6V1828.6M126.6 1766.8H136.6M126.6 1698.9H136.6M126.6 1631.1H136.6M126.6 1563.3H136.6M126.6 1495.5H136.6M126.6 1427.6H136.6M126.6 1359.8H136.6M126.6 1800.7H132.6M126.6 1732.9H132.6M126.6 1665H132.6M126.6 1597.2H132.6M126.6 1529.4H132.6M126.6 1461.5H132.6M126.6 1393.7H132.6" fill="none" stroke="#000" stroke-width="2.6"/>
<text x="141.2" y="1874.6" font-size="31" text-anchor="middle" textLength="17.3" lengthAdjust="spacingAndGlyphs" stroke="#000" stroke-width="1.4">0</text>
<text x="295.5" y="1874.6" font-size="31" text-anchor="middle" textLength="17.3" lengthAdjust="spacingAndGlyphs" stroke="#000" stroke-width="1.4">5</text>
<text x="449.9" y="1874.6" font-size="31" text-anchor="middle" textLength="34" lengthAdjust="spacingAndGlyphs" stroke="#000" stroke-width="1.4">10</text>
<text x="604.2" y="1874.6" font-size="31" text-anchor="middle" textLength="34" lengthAdjust="spacingAndGlyphs" stroke="#000" stroke-width="1.4">15</text>
<text x="758.6" y="1874.6" font-size="31" text-anchor="middle" textLength="34" lengthAdjust="spacingAndGlyphs" stroke="#000" stroke-width="1.4">20</text>
<text x="115.3" y="1845.4" font-size="31" text-anchor="end" textLength="17.3" lengthAdjust="spacingAndGlyphs" stroke="#000" stroke-width="1.4">0</text>
<text x="115.3" y="1777.6" font-size="31" text-anchor="end" textLength="34" lengthAdjust="spacingAndGlyphs" stroke="#000" stroke-width="1.4">40</text>
<text x="115.3" y="1709.7" font-size="31" text-anchor="end" textLength="34" lengthAdjust="spacingAndGlyphs" stroke="#000" stroke-width="1.4">80</text>
<text x="115.3" y="1641.9" font-size="31" text-anchor="end" textLength="50.7" lengthAdjust="spacingAndGlyphs" stroke="#000" stroke-width="1.4">120</text>
<text x="115.3" y="1574.1" font-size="31" text-anchor="end" textLength="50.7" lengthAdjust="spacingAndGlyphs" stroke="#000" stroke-width="1.4">160</text>
<text x="115.3" y="1506.3" font-size="31" text-anchor="end" textLength="50.7" lengthAdjust="spacingAndGlyphs" stroke="#000" stroke-width="1.4">200</text>
<text x="115.3" y="1438.4" font-size="31" text-anchor="end" textLength="50.7" lengthAdjust="spacingAndGlyphs" stroke="#000" stroke-width="1.4">240</text>
<text x="115.3" y="1370.6" font-size="31" text-anchor="end" textLength="50.7" lengthAdjust="spacingAndGlyphs" stroke="#000" stroke-width="1.4">280</text>
<text x="389.5" y="1927.6" font-size="40" textLength="25.5" lengthAdjust="spacingAndGlyphs" stroke="#000" stroke-width="1.6">V</text>
<text x="414.7" y="1939.1" font-size="22.5" textLength="26.3" lengthAdjust="spacingAndGlyphs" stroke="#000" stroke-width="1.1">gs</text>
<text x="440.6" y="1927.6" font-size="40" textLength="58.6" lengthAdjust="spacing" stroke="#000" stroke-width="1.6">(V)</text>
<g transform="translate(44.2 1685) rotate(-90)">
<text x="-2.5" y="0" font-size="39" textLength="14.5" lengthAdjust="spacingAndGlyphs" stroke="#000" stroke-width="2.2" font-family="IPAGothic, IPAPGothic, 'Liberation Serif', serif">I</text>
<text x="10.2" y="12" font-size="21" textLength="25.3" lengthAdjust="spacingAndGlyphs" stroke="#000" stroke-width="1.1">ds</text>
<text x="34.2" y="0" font-size="39" textLength="176" lengthAdjust="spacingAndGlyphs" stroke="#000" stroke-width="1.6">(mA/mm)</text>
</g>
<text x="10" y="1353.4" font-size="29" textLength="39.5" lengthAdjust="spacing" stroke="#000" stroke-width="0.6">(c)</text>
<text x="561.8" y="1526.3" font-size="30" textLength="22.7" lengthAdjust="spacingAndGlyphs" stroke="#000" stroke-width="1.4">D</text>
<text x="584.7" y="1535" font-size="20" textLength="61.5" lengthAdjust="spacingAndGlyphs" stroke="#000" stroke-width="1.1">trench</text>
<path d="M563.3 1559.1H629.9" stroke="#000000" stroke-width="6.1" stroke-linecap="round" fill="none"/>
<text x="639.8" y="1570.7" font-size="31" textLength="50.7" lengthAdjust="spacingAndGlyphs" stroke="#000" stroke-width="1.4">200</text>
<text x="690.2" y="1570.7" font-size="30" textLength="44.3" lengthAdjust="spacingAndGlyphs" stroke="#000" stroke-width="1.4">nm</text>
<path d="M563.3 1595.9H629.9" stroke="#ff0000" stroke-width="6.1" stroke-linecap="round" fill="none"/>
<text x="639.8" y="1607.5" font-size="31" textLength="50.7" lengthAdjust="spacingAndGlyphs" stroke="#000" stroke-width="1.4">160</text>
<text x="690.2" y="1607.5" font-size="30" textLength="44.3" lengthAdjust="spacingAndGlyphs" stroke="#000" stroke-width="1.4">nm</text>
<path d="M563.3 1632.7H629.9" stroke="#00ff00" stroke-width="6.1" stroke-linecap="round" fill="none"/>
<text x="639.8" y="1644.3" font-size="31" textLength="50.7" lengthAdjust="spacingAndGlyphs" stroke="#000" stroke-width="1.4">120</text>
<text x="690.2" y="1644.3" font-size="30" textLength="44.3" lengthAdjust="spacingAndGlyphs" stroke="#000" stroke-width="1.4">nm</text>
<path d="M563.3 1669.5H629.9" stroke="#0000ff" stroke-width="6.1" stroke-linecap="round" fill="none"/>
<text x="639.8" y="1681.1" font-size="31" textLength="50.7" lengthAdjust="spacingAndGlyphs" stroke="#000" stroke-width="1.4">100</text>
<text x="690.2" y="1681.1" font-size="30" textLength="44.3" lengthAdjust="spacingAndGlyphs" stroke="#000" stroke-width="1.4">nm</text>
<path d="M563.3 1706.3H629.9" stroke="#00ffff" stroke-width="6.1" stroke-linecap="round" fill="none"/>
<text x="650.8" y="1717.9" font-size="31" textLength="34" lengthAdjust="spacingAndGlyphs" stroke="#000" stroke-width="1.4">80</text>
<text x="684.5" y="1717.9" font-size="30" textLength="44.3" lengthAdjust="spacingAndGlyphs" stroke="#000" stroke-width="1.4">nm</text>
<path d="M563.3 1743.1H629.9" stroke="#ff00ff" stroke-width="6.1" stroke-linecap="round" fill="none"/>
<text x="650.8" y="1754.7" font-size="31" textLength="34" lengthAdjust="spacingAndGlyphs" stroke="#000" stroke-width="1.4">40</text>
<text x="684.5" y="1754.7" font-size="30" textLength="44.3" lengthAdjust="spacingAndGlyphs" stroke="#000" stroke-width="1.4">nm</text>
<text x="199.5" y="1369.5" font-size="30" textLength="130" lengthAdjust="spacingAndGlyphs" fill="#ff0000" stroke="#ff0000" stroke-width="1.4">Maximum</text>
<text x="137.7" y="1405" font-size="30" textLength="250.6" lengthAdjust="spacingAndGlyphs" fill="#ff0000" stroke="#ff0000" stroke-width="1.4">transconductance</text>
<path d="M256.4 1404V1582" stroke="#ff0000" stroke-width="3.7" fill="none"/>
<path d="M256.4 1605L249.1 1579.5H263.7Z" fill="#ff0000"/>
<circle cx="258.1" cy="1619.6" r="14.1" fill="none" stroke="#000" stroke-width="3.9" stroke-dasharray="14.8 10"/>
<clipPath id="cpd"><rect x="117.7" y="1993.5" width="645.8" height="506.9"/></clipPath>
<g clip-path="url(#cpd)" fill="none" stroke-width="6.5" stroke-linecap="round" stroke-linejoin="round">
<path d="M112 2437.3 L118 2407.2 L120.5 2394.7 L123 2381.6 L125.5 2368.1 L128 2354.2 L130.5 2339.6 L133 2324.4 L135.5 2309.2 L138 2293.8 L140.5 2278.4 L143 2264.7 L145.5 2251.5 L148 2238.7 L150.5 2226.6 L153 2215.6 L155.5 2205.9 L158 2197.9 L160.5 2190.9 L163 2184.6 L165.5 2178.7 L168 2173.3 L170.5 2168.3 L173 2163.5 L175.5 2158.8 L178 2154.2 L180.5 2149.6 L183 2144.9 L185.5 2140.2 L188 2135.6 L190.5 2131 L193 2126.6 L195.5 2122.2 L198 2118 L200.5 2113.8 L203 2109.7 L205.5 2105.7 L208 2101.8 L210.5 2098 L213 2094.2 L215.5 2090.5 L218 2086.9 L220.5 2083.4 L223 2079.9 L225.5 2076.5 L228 2073.1 L230.5 2069.8 L233 2066.5 L235.5 2063.3 L238 2060.1 L240.5 2057 L243 2053.8 L245.5 2050.8 L248 2047.8 L250.5 2044.8 L253 2042 L255.5 2039.2 L258 2036.6 L260.5 2034 L263 2031.1 L265.5 2028.2 L268 2025.8 L270.5 2024.4 L273 2024.4 L275.5 2025.7 L278 2028.2 L280.5 2031.5 L283 2035.6 L285.5 2043.5 L288 2055.8 L290.5 2069.9 L293 2085.5 L295.5 2104.6 L298 2124.7 L300.5 2143.2 L303 2160.9 L305.5 2178.1 L308 2194 L310.5 2208.4 L313 2222 L315.5 2234.7 L318 2246.4 L320.5 2257.4 L323 2267.7 L325.5 2277.3 L328 2285.9 L330.5 2293.5 L333 2300.5 L335.5 2307.1 L338 2313.3 L340.5 2319.2 L343 2324.7 L345.5 2330 L348 2334.9 L350.5 2339.7 L353 2344.1 L355.5 2348.4 L358 2352.5 L360.5 2356.4 L363 2360.1 L365.5 2363.6 L368 2367 L370.5 2370.3 L373 2373.6 L375.5 2376.7 L378 2379.8 L380.5 2382.8 L383 2385.7 L385.5 2388.5 L388 2391.2 L390.5 2393.8 L393 2396.3 L395.5 2398.7 L398 2401 L400.5 2403.2 L403 2405.3 L405.5 2407.4 L408 2409.4 L410.5 2411.4 L413 2413.3 L415.5 2415.1 L418 2417 L420.5 2418.7 L423 2420.4 L425.5 2422.1 L428 2423.7 L430.5 2425.2 L433 2426.8 L435.5 2428.2 L438 2429.7 L440.5 2431 L443 2432.4 L445.5 2433.7 L448 2435 L450.5 2436.2 L453 2437.4 L455.5 2438.6 L458 2439.8 L460.5 2440.9 L463 2442 L465.5 2443.1 L468 2444.1 L470.5 2445.2 L473 2446.2 L475.5 2447.1 L478 2448.1 L480.5 2449 L483 2450 L485.5 2450.8 L488 2451.7 L490.5 2452.6 L493 2453.4 L495.5 2454.2 L498 2455 L500.5 2455.8 L503 2456.6 L505.5 2457.3 L508 2458.1 L510.5 2458.8 L513 2459.5 L515.5 2460.2 L518 2460.8 L520.5 2461.5 L523 2462.1 L525.5 2462.7 L528 2463.3 L530.5 2463.9 L533 2464.5 L535.5 2465.1 L538 2465.7 L540.5 2466.3 L543 2466.9 L545.5 2467.4 L548 2468 L550.5 2468.5 L553 2469.1 L555.5 2469.6 L558 2470.1 L560.5 2470.6 L563 2471.1 L565.5 2471.6 L568 2472.1 L570.5 2472.6 L573 2473.1 L575.5 2473.5 L578 2474 L580.5 2474.4 L583 2474.9 L585.5 2475.3 L588 2475.7 L590.5 2476.1 L593 2476.5 L595.5 2476.9 L598 2477.2 L600.5 2477.6 L603 2478 L605.5 2478.3 L608 2478.7 L610.5 2479 L613 2479.4 L615.5 2479.7 L618 2480.1 L620.5 2480.4 L623 2480.7 L625.5 2481 L628 2481.4 L630.5 2481.7 L633 2482 L635.5 2482.3 L638 2482.6 L640.5 2482.9 L643 2483.2 L645.5 2483.5 L648 2483.8 L650.5 2484 L653 2484.3 L655.5 2484.6 L658 2484.9 L660.5 2485.2 L663 2485.5 L665.5 2485.7 L668 2486 L670.5 2486.3 L673 2486.5 L675.5 2486.8 L678 2487.1 L680.5 2487.4 L683 2487.6 L685.5 2487.9 L688 2488.2 L690.5 2488.4 L693 2488.7 L695.5 2488.9 L698 2489.2 L700.5 2489.4 L703 2489.7 L705.5 2489.9 L708 2490.2 L710.5 2490.4 L713 2490.7 L715.5 2490.9 L718 2491.2 L720.5 2491.4 L723 2491.6 L725.5 2491.9 L728 2492.1 L730.5 2492.3 L733 2492.5 L735.5 2492.8 L738 2493 L740.5 2493.2 L743 2493.4 L745.5 2493.6 L748 2493.8 L750.5 2494 L753 2494.3 L754.8 2494.4" stroke="#000000"/>
<path d="M112 2402 L118 2372.9 L120.5 2360.8 L123 2348.8 L125.5 2337 L128 2325.4 L130.5 2314 L133 2302.7 L135.5 2291.5 L138 2280.6 L140.5 2270 L143 2259.4 L145.5 2248.8 L148 2238.2 L150.5 2227.9 L153 2218.2 L155.5 2209.4 L158 2201.5 L160.5 2194.4 L163 2187.8 L165.5 2181.6 L168 2175.8 L170.5 2170.2 L173 2164.7 L175.5 2159.2 L178 2153.6 L180.5 2147.8 L183 2141.8 L185.5 2135.1 L188 2128 L190.5 2120.9 L193 2114.1 L195.5 2107.9 L198 2102.7 L200.5 2098.7 L203 2095.1 L205.5 2091.9 L208 2088.9 L210.5 2086.2 L213 2083.8 L215.5 2081.6 L218 2079.6 L220.5 2077.9 L223 2076.4 L225.5 2075 L228 2073.7 L230.5 2072.5 L233 2071.1 L235.5 2069.7 L238 2068 L240.5 2066 L243 2063.7 L245.5 2061.3 L248 2059.1 L250.5 2057.3 L253 2055.9 L255.5 2054.5 L258 2053.5 L260.5 2053 L263 2053.8 L265.5 2056 L268 2059.1 L270.5 2062.9 L273 2067.4 L275.5 2074.2 L278 2082.8 L280.5 2092.6 L283 2102.7 L285.5 2113.1 L288 2124.8 L290.5 2137.4 L293 2150 L295.5 2162.3 L298 2174.7 L300.5 2187.2 L303 2199.4 L305.5 2210.9 L308 2222 L310.5 2232.7 L313 2243 L315.5 2252.8 L318 2262.4 L320.5 2271.7 L323 2280.6 L325.5 2288.9 L328 2296.4 L330.5 2303.3 L333 2309.8 L335.5 2315.9 L338 2321.8 L340.5 2327.3 L343 2332.5 L345.5 2337.5 L348 2342.3 L350.5 2346.8 L353 2351.1 L355.5 2355.2 L358 2359.2 L360.5 2362.9 L363 2366.5 L365.5 2369.9 L368 2373.1 L370.5 2376.2 L373 2379.3 L375.5 2382.2 L378 2385 L380.5 2387.8 L383 2390.5 L385.5 2393 L388 2395.5 L390.5 2397.9 L393 2400.2 L395.5 2402.5 L398 2404.6 L400.5 2406.6 L403 2408.6 L405.5 2410.6 L408 2412.5 L410.5 2414.3 L413 2416.1 L415.5 2417.9 L418 2419.6 L420.5 2421.2 L423 2422.8 L425.5 2424.4 L428 2425.9 L430.5 2427.4 L433 2428.8 L435.5 2430.2 L438 2431.6 L440.5 2432.8 L443 2434.1 L445.5 2435.3 L448 2436.5 L450.5 2437.7 L453 2438.8 L455.5 2439.9 L458 2441 L460.5 2442 L463 2443 L465.5 2444 L468 2445 L470.5 2446 L473 2446.9 L475.5 2447.8 L478 2448.7 L480.5 2449.6 L483 2450.5 L485.5 2451.3 L488 2452.2 L490.5 2453 L493 2453.8 L495.5 2454.6 L498 2455.4 L500.5 2456.2 L503 2456.9 L505.5 2457.7 L508 2458.4 L510.5 2459.1 L513 2459.8 L515.5 2460.5 L518 2461.1 L520.5 2461.8 L523 2462.4 L525.5 2463 L528 2463.6 L530.5 2464.2 L533 2464.8 L535.5 2465.4 L538 2465.9 L540.5 2466.5 L543 2467.1 L545.5 2467.6 L548 2468.2 L550.5 2468.7 L553 2469.2 L555.5 2469.7 L558 2470.2 L560.5 2470.7 L563 2471.2 L565.5 2471.7 L568 2472.2 L570.5 2472.7 L573 2473.1 L575.5 2473.6 L578 2474 L580.5 2474.4 L583 2474.9 L585.5 2475.3 L588 2475.7 L590.5 2476.1 L593 2476.5 L595.5 2476.8 L598 2477.2 L600.5 2477.6 L603 2478 L605.5 2478.3 L608 2478.7 L610.5 2479 L613 2479.4 L615.5 2479.7 L618 2480 L620.5 2480.4 L623 2480.7 L625.5 2481 L628 2481.3 L630.5 2481.6 L633 2482 L635.5 2482.3 L638 2482.6 L640.5 2482.9 L643 2483.2 L645.5 2483.5 L648 2483.7 L650.5 2484 L653 2484.3 L655.5 2484.6 L658 2484.9 L660.5 2485.2 L663 2485.4 L665.5 2485.7 L668 2486 L670.5 2486.3 L673 2486.5 L675.5 2486.8 L678 2487.1 L680.5 2487.4 L683 2487.6 L685.5 2487.9 L688 2488.2 L690.5 2488.4 L693 2488.7 L695.5 2488.9 L698 2489.2 L700.5 2489.4 L703 2489.7 L705.5 2489.9 L708 2490.2 L710.5 2490.4 L713 2490.7 L715.5 2490.9 L718 2491.2 L720.5 2491.4 L723 2491.6 L725.5 2491.9 L728 2492.1 L730.5 2492.3 L733 2492.5 L735.5 2492.8 L738 2493 L740.5 2493.2 L743 2493.4 L745.5 2493.6 L748 2493.8 L750.5 2494 L753 2494.3 L754.8 2494.4" stroke="#ff0000"/>
<path d="M112 2360.7 L118 2348 L120.5 2342.7 L123 2337.1 L125.5 2331.2 L128 2325 L130.5 2318.6 L133 2311.9 L135.5 2305 L138 2298 L140.5 2290.6 L143 2282.7 L145.5 2274.5 L148 2265.7 L150.5 2255.8 L153 2245.4 L155.5 2234.9 L158 2224.8 L160.5 2215.8 L163 2207.8 L165.5 2200.2 L168 2192.9 L170.5 2185.9 L173 2179.3 L175.5 2172.9 L178 2166.9 L180.5 2161.2 L183 2155.8 L185.5 2150.6 L188 2145.6 L190.5 2140.8 L193 2136.3 L195.5 2131.9 L198 2127.8 L200.5 2123.9 L203 2120.3 L205.5 2116.9 L208 2113.5 L210.5 2110.3 L213 2107.1 L215.5 2104.1 L218 2101.4 L220.5 2098.9 L223 2096.8 L225.5 2095 L228 2093.6 L230.5 2092.3 L233 2091 L235.5 2089.8 L238 2088.7 L240.5 2087.8 L243 2087.1 L245.5 2086.7 L248 2086.5 L250.5 2086.8 L253 2087.9 L255.5 2089.6 L258 2091.7 L260.5 2094.1 L263 2096.7 L265.5 2100.4 L268 2105.6 L270.5 2111.7 L273 2118.6 L275.5 2125.8 L278 2132.9 L280.5 2140.7 L283 2149.2 L285.5 2158.2 L288 2167.5 L290.5 2176.9 L293 2186.4 L295.5 2196.2 L298 2206.4 L300.5 2216.7 L303 2226.9 L305.5 2236.6 L308 2245.9 L310.5 2255.3 L313 2264.5 L315.5 2273.5 L318 2282 L320.5 2289.8 L323 2296.8 L325.5 2303.2 L328 2309.3 L330.5 2315.1 L333 2320.7 L335.5 2325.9 L338 2331 L340.5 2335.8 L343 2340.5 L345.5 2345 L348 2349.3 L350.5 2353.5 L353 2357.6 L355.5 2361.6 L358 2365.3 L360.5 2368.9 L363 2372.3 L365.5 2375.6 L368 2378.6 L370.5 2381.5 L373 2384.3 L375.5 2387 L378 2389.7 L380.5 2392.2 L383 2394.6 L385.5 2397 L388 2399.3 L390.5 2401.5 L393 2403.6 L395.5 2405.7 L398 2407.7 L400.5 2409.6 L403 2411.4 L405.5 2413.3 L408 2415 L410.5 2416.8 L413 2418.5 L415.5 2420.1 L418 2421.7 L420.5 2423.3 L423 2424.8 L425.5 2426.3 L428 2427.8 L430.5 2429.2 L433 2430.5 L435.5 2431.8 L438 2433.1 L440.5 2434.4 L443 2435.6 L445.5 2436.7 L448 2437.8 L450.5 2439 L453 2440 L455.5 2441.1 L458 2442.1 L460.5 2443.1 L463 2444.1 L465.5 2445 L468 2446 L470.5 2446.9 L473 2447.8 L475.5 2448.7 L478 2449.5 L480.5 2450.4 L483 2451.2 L485.5 2452 L488 2452.8 L490.5 2453.6 L493 2454.4 L495.5 2455.2 L498 2456 L500.5 2456.7 L503 2457.4 L505.5 2458.1 L508 2458.8 L510.5 2459.5 L513 2460.2 L515.5 2460.8 L518 2461.5 L520.5 2462.1 L523 2462.7 L525.5 2463.3 L528 2463.9 L530.5 2464.5 L533 2465 L535.5 2465.6 L538 2466.2 L540.5 2466.7 L543 2467.2 L545.5 2467.8 L548 2468.3 L550.5 2468.8 L553 2469.3 L555.5 2469.8 L558 2470.3 L560.5 2470.8 L563 2471.3 L565.5 2471.8 L568 2472.3 L570.5 2472.7 L573 2473.2 L575.5 2473.6 L578 2474 L580.5 2474.5 L583 2474.9 L585.5 2475.3 L588 2475.7 L590.5 2476.1 L593 2476.5 L595.5 2476.8 L598 2477.2 L600.5 2477.6 L603 2477.9 L605.5 2478.3 L608 2478.7 L610.5 2479 L613 2479.3 L615.5 2479.7 L618 2480 L620.5 2480.3 L623 2480.7 L625.5 2481 L628 2481.3 L630.5 2481.6 L633 2481.9 L635.5 2482.2 L638 2482.6 L640.5 2482.9 L643 2483.2 L645.5 2483.4 L648 2483.7 L650.5 2484 L653 2484.3 L655.5 2484.6 L658 2484.9 L660.5 2485.2 L663 2485.4 L665.5 2485.7 L668 2486 L670.5 2486.3 L673 2486.5 L675.5 2486.8 L678 2487.1 L680.5 2487.4 L683 2487.6 L685.5 2487.9 L688 2488.2 L690.5 2488.4 L693 2488.7 L695.5 2488.9 L698 2489.2 L700.5 2489.4 L703 2489.7 L705.5 2489.9 L708 2490.2 L710.5 2490.4 L713 2490.7 L715.5 2490.9 L718 2491.2 L720.5 2491.4 L723 2491.6 L725.5 2491.9 L728 2492.1 L730.5 2492.3 L733 2492.5 L735.5 2492.8 L738 2493 L740.5 2493.2 L743 2493.4 L745.5 2493.6 L748 2493.8 L750.5 2494 L753 2494.3 L754.8 2494.4" stroke="#00ff00"/>
<path d="M112 2340.2 L118 2335.5 L120.5 2333.5 L123 2330.9 L125.5 2327.8 L128 2324.2 L130.5 2320.1 L133 2315.7 L135.5 2310.9 L138 2306 L140.5 2300.8 L143 2295.1 L145.5 2288.2 L148 2280.7 L150.5 2272.8 L153 2264.9 L155.5 2256.5 L158 2247.7 L160.5 2239 L163 2230.4 L165.5 2222.3 L168 2213.9 L170.5 2205.3 L173 2196.8 L175.5 2188.4 L178 2180.5 L180.5 2173.3 L183 2166.9 L185.5 2161.6 L188 2157.4 L190.5 2153.9 L193 2150.8 L195.5 2148 L198 2145.4 L200.5 2142.9 L203 2140.4 L205.5 2137.7 L208 2134.8 L210.5 2131.4 L213 2127.9 L215.5 2124.1 L218 2120.4 L220.5 2116.7 L223 2113.3 L225.5 2110.1 L228 2107.2 L230.5 2104.1 L233 2101 L235.5 2098.1 L238 2095.8 L240.5 2094.3 L243 2093.8 L245.5 2094.5 L248 2096.1 L250.5 2098.4 L253 2101.2 L255.5 2104.4 L258 2107.7 L260.5 2111 L263 2115.1 L265.5 2119.9 L268 2125.2 L270.5 2130.8 L273 2136.8 L275.5 2142.9 L278 2149.7 L280.5 2156.9 L283 2164.6 L285.5 2172.7 L288 2181.1 L290.5 2190.2 L293 2200.1 L295.5 2210.6 L298 2221.2 L300.5 2231.5 L303 2241.1 L305.5 2250.4 L308 2259.7 L310.5 2268.8 L313 2277.5 L315.5 2285.6 L318 2293 L320.5 2299.6 L323 2305.8 L325.5 2311.8 L328 2317.5 L330.5 2322.9 L333 2328 L335.5 2333 L338 2337.8 L340.5 2342.4 L343 2346.8 L345.5 2351.1 L348 2355.3 L350.5 2359.4 L353 2363.4 L355.5 2367.2 L358 2370.8 L360.5 2374.3 L363 2377.6 L365.5 2380.7 L368 2383.6 L370.5 2386.3 L373 2389 L375.5 2391.5 L378 2394 L380.5 2396.3 L383 2398.6 L385.5 2400.8 L388 2402.9 L390.5 2405 L393 2406.9 L395.5 2408.9 L398 2410.7 L400.5 2412.5 L403 2414.2 L405.5 2416 L408 2417.6 L410.5 2419.3 L413 2420.9 L415.5 2422.4 L418 2423.9 L420.5 2425.4 L423 2426.9 L425.5 2428.3 L428 2429.6 L430.5 2430.9 L433 2432.2 L435.5 2433.5 L438 2434.7 L440.5 2435.9 L443 2437 L445.5 2438.1 L448 2439.2 L450.5 2440.2 L453 2441.2 L455.5 2442.2 L458 2443.2 L460.5 2444.2 L463 2445.1 L465.5 2446 L468 2446.9 L470.5 2447.8 L473 2448.6 L475.5 2449.5 L478 2450.3 L480.5 2451.1 L483 2451.9 L485.5 2452.7 L488 2453.5 L490.5 2454.3 L493 2455 L495.5 2455.8 L498 2456.5 L500.5 2457.3 L503 2458 L505.5 2458.7 L508 2459.3 L510.5 2460 L513 2460.7 L515.5 2461.3 L518 2461.9 L520.5 2462.5 L523 2463.1 L525.5 2463.7 L528 2464.3 L530.5 2464.8 L533 2465.4 L535.5 2465.9 L538 2466.5 L540.5 2467 L543 2467.5 L545.5 2468 L548 2468.5 L550.5 2469 L553 2469.5 L555.5 2470 L558 2470.5 L560.5 2471 L563 2471.4 L565.5 2471.9 L568 2472.3 L570.5 2472.8 L573 2473.2 L575.5 2473.7 L578 2474.1 L580.5 2474.5 L583 2474.9 L585.5 2475.3 L588 2475.7 L590.5 2476.1 L593 2476.5 L595.5 2476.8 L598 2477.2 L600.5 2477.6 L603 2477.9 L605.5 2478.3 L608 2478.6 L610.5 2479 L613 2479.3 L615.5 2479.7 L618 2480 L620.5 2480.3 L623 2480.6 L625.5 2481 L628 2481.3 L630.5 2481.6 L633 2481.9 L635.5 2482.2 L638 2482.5 L640.5 2482.8 L643 2483.1 L645.5 2483.4 L648 2483.7 L650.5 2484 L653 2484.3 L655.5 2484.6 L658 2484.9 L660.5 2485.2 L663 2485.4 L665.5 2485.7 L668 2486 L670.5 2486.3 L673 2486.5 L675.5 2486.8 L678 2487.1 L680.5 2487.4 L683 2487.6 L685.5 2487.9 L688 2488.2 L690.5 2488.4 L693 2488.7 L695.5 2488.9 L698 2489.2 L700.5 2489.4 L703 2489.7 L705.5 2489.9 L708 2490.2 L710.5 2490.4 L713 2490.7 L715.5 2490.9 L718 2491.2 L720.5 2491.4 L723 2491.6 L725.5 2491.9 L728 2492.1 L730.5 2492.3 L733 2492.5 L735.5 2492.8 L738 2493 L740.5 2493.2 L743 2493.4 L745.5 2493.6 L748 2493.8 L750.5 2494 L753 2494.3 L754.8 2494.4" stroke="#0000ff"/>
<path d="M112 2331.6 L118 2327.7 L120.5 2326.1 L123 2324.1 L125.5 2321.8 L128 2319.3 L130.5 2316.4 L133 2313.4 L135.5 2310.1 L138 2306.7 L140.5 2303.2 L143 2299.6 L145.5 2295.6 L148 2291.3 L150.5 2286.5 L153 2281.2 L155.5 2275.5 L158 2269.2 L160.5 2261.1 L163 2252.2 L165.5 2244.3 L168 2237.1 L170.5 2230.1 L173 2223.3 L175.5 2216.8 L178 2210.6 L180.5 2204.8 L183 2199.4 L185.5 2194.2 L188 2189.3 L190.5 2184.6 L193 2180.1 L195.5 2175.9 L198 2171.8 L200.5 2167.9 L203 2164.1 L205.5 2160.5 L208 2156.9 L210.5 2153.5 L213 2150.3 L215.5 2147.3 L218 2144.7 L220.5 2142.3 L223 2139.9 L225.5 2137.6 L228 2135.5 L230.5 2133.9 L233 2132.8 L235.5 2132.3 L238 2131.9 L240.5 2131.5 L243 2131.2 L245.5 2131 L248 2130.9 L250.5 2131.2 L253 2132.2 L255.5 2133.7 L258 2135.6 L260.5 2137.9 L263 2140.3 L265.5 2144 L268 2149.2 L270.5 2155.6 L273 2162.5 L275.5 2169.6 L278 2176.4 L280.5 2183.4 L283 2190.7 L285.5 2198.3 L288 2206.2 L290.5 2214.1 L293 2222.1 L295.5 2230.4 L298 2239.2 L300.5 2248.1 L303 2257 L305.5 2265.9 L308 2274.6 L310.5 2283 L313 2290.8 L315.5 2298 L318 2304.7 L320.5 2311 L323 2317 L325.5 2322.7 L328 2328 L330.5 2333 L333 2337.7 L335.5 2342.2 L338 2346.6 L340.5 2350.7 L343 2354.8 L345.5 2358.6 L348 2362.4 L350.5 2366.1 L353 2369.7 L355.5 2373.2 L358 2376.7 L360.5 2379.9 L363 2383 L365.5 2385.9 L368 2388.6 L370.5 2391.1 L373 2393.5 L375.5 2395.8 L378 2398 L380.5 2400.2 L383 2402.2 L385.5 2404.2 L388 2406.1 L390.5 2408 L393 2409.8 L395.5 2411.5 L398 2413.3 L400.5 2414.9 L403 2416.6 L405.5 2418.2 L408 2419.8 L410.5 2421.4 L413 2422.9 L415.5 2424.4 L418 2425.9 L420.5 2427.3 L423 2428.7 L425.5 2430 L428 2431.3 L430.5 2432.6 L433 2433.9 L435.5 2435.1 L438 2436.2 L440.5 2437.4 L443 2438.5 L445.5 2439.5 L448 2440.5 L450.5 2441.5 L453 2442.5 L455.5 2443.5 L458 2444.4 L460.5 2445.3 L463 2446.2 L465.5 2447.1 L468 2447.9 L470.5 2448.8 L473 2449.6 L475.5 2450.4 L478 2451.2 L480.5 2452 L483 2452.7 L485.5 2453.5 L488 2454.3 L490.5 2455 L493 2455.7 L495.5 2456.5 L498 2457.2 L500.5 2457.9 L503 2458.6 L505.5 2459.2 L508 2459.9 L510.5 2460.5 L513 2461.2 L515.5 2461.8 L518 2462.4 L520.5 2463 L523 2463.5 L525.5 2464.1 L528 2464.6 L530.5 2465.2 L533 2465.7 L535.5 2466.2 L538 2466.7 L540.5 2467.3 L543 2467.8 L545.5 2468.3 L548 2468.7 L550.5 2469.2 L553 2469.7 L555.5 2470.2 L558 2470.6 L560.5 2471.1 L563 2471.5 L565.5 2472 L568 2472.4 L570.5 2472.9 L573 2473.3 L575.5 2473.7 L578 2474.1 L580.5 2474.5 L583 2474.9 L585.5 2475.3 L588 2475.7 L590.5 2476.1 L593 2476.5 L595.5 2476.8 L598 2477.2 L600.5 2477.5 L603 2477.9 L605.5 2478.3 L608 2478.6 L610.5 2479 L613 2479.3 L615.5 2479.6 L618 2480 L620.5 2480.3 L623 2480.6 L625.5 2480.9 L628 2481.3 L630.5 2481.6 L633 2481.9 L635.5 2482.2 L638 2482.5 L640.5 2482.8 L643 2483.1 L645.5 2483.4 L648 2483.7 L650.5 2484 L653 2484.3 L655.5 2484.6 L658 2484.9 L660.5 2485.2 L663 2485.4 L665.5 2485.7 L668 2486 L670.5 2486.3 L673 2486.5 L675.5 2486.8 L678 2487.1 L680.5 2487.4 L683 2487.6 L685.5 2487.9 L688 2488.2 L690.5 2488.4 L693 2488.7 L695.5 2488.9 L698 2489.2 L700.5 2489.4 L703 2489.7 L705.5 2489.9 L708 2490.2 L710.5 2490.4 L713 2490.7 L715.5 2490.9 L718 2491.2 L720.5 2491.4 L723 2491.6 L725.5 2491.9 L728 2492.1 L730.5 2492.3 L733 2492.5 L735.5 2492.8 L738 2493 L740.5 2493.2 L743 2493.4 L745.5 2493.6 L748 2493.8 L750.5 2494 L753 2494.3 L754.8 2494.4" stroke="#00ffff"/>
<path d="M112 2339.3 L118 2339.2 L120.5 2339.2 L123 2339.1 L125.5 2338.9 L128 2338.7 L130.5 2338.4 L133 2337.1 L135.5 2334.8 L138 2331.9 L140.5 2328.9 L143 2326.1 L145.5 2323.8 L148 2322.4 L150.5 2321.4 L153 2320.6 L155.5 2319.8 L158 2319.1 L160.5 2318.2 L163 2317.1 L165.5 2315.8 L168 2314.5 L170.5 2312.8 L173 2310.8 L175.5 2307.9 L178 2303.8 L180.5 2299 L183 2294.1 L185.5 2289.4 L188 2284.5 L190.5 2279.4 L193 2274.3 L195.5 2269.1 L198 2264 L200.5 2259 L203 2254.2 L205.5 2249.7 L208 2245.3 L210.5 2240.8 L213 2236.1 L215.5 2231.2 L218 2225.7 L220.5 2219.7 L223 2213.2 L225.5 2206.4 L228 2199.2 L230.5 2192 L233 2184.5 L235.5 2176.3 L238 2167.8 L240.5 2159.6 L243 2152.2 L245.5 2145.8 L248 2139.1 L250.5 2133.5 L253 2130.8 L255.5 2131.9 L258 2135.6 L260.5 2140.8 L263 2146.1 L265.5 2152.5 L268 2160.1 L270.5 2168.3 L273 2176.4 L275.5 2183.9 L278 2191.3 L280.5 2198.8 L283 2206.3 L285.5 2213.7 L288 2221.2 L290.5 2228.7 L293 2236.1 L295.5 2243.5 L298 2251 L300.5 2258.7 L303 2266.5 L305.5 2274.8 L308 2283.5 L310.5 2291.9 L313 2299.5 L315.5 2306.1 L318 2312.2 L320.5 2317.9 L323 2323.4 L325.5 2328.6 L328 2333.7 L330.5 2338.7 L333 2343.7 L335.5 2348.6 L338 2353.3 L340.5 2357.9 L343 2362.3 L345.5 2366.4 L348 2370.2 L350.5 2373.8 L353 2377.2 L355.5 2380.4 L358 2383.6 L360.5 2386.5 L363 2389.3 L365.5 2391.9 L368 2394.3 L370.5 2396.6 L373 2398.8 L375.5 2400.9 L378 2402.9 L380.5 2404.9 L383 2406.7 L385.5 2408.5 L388 2410.3 L390.5 2412 L393 2413.6 L395.5 2415.3 L398 2416.8 L400.5 2418.4 L403 2419.9 L405.5 2421.3 L408 2422.8 L410.5 2424.2 L413 2425.6 L415.5 2426.9 L418 2428.3 L420.5 2429.6 L423 2430.8 L425.5 2432.1 L428 2433.3 L430.5 2434.4 L433 2435.6 L435.5 2436.7 L438 2437.8 L440.5 2438.9 L443 2439.9 L445.5 2440.9 L448 2441.9 L450.5 2442.9 L453 2443.9 L455.5 2444.8 L458 2445.7 L460.5 2446.6 L463 2447.5 L465.5 2448.4 L468 2449.2 L470.5 2450.1 L473 2450.9 L475.5 2451.7 L478 2452.5 L480.5 2453.2 L483 2454 L485.5 2454.7 L488 2455.4 L490.5 2456.1 L493 2456.8 L495.5 2457.5 L498 2458.2 L500.5 2458.8 L503 2459.5 L505.5 2460.1 L508 2460.7 L510.5 2461.3 L513 2461.9 L515.5 2462.5 L518 2463 L520.5 2463.6 L523 2464.1 L525.5 2464.7 L528 2465.2 L530.5 2465.7 L533 2466.2 L535.5 2466.7 L538 2467.2 L540.5 2467.7 L543 2468.1 L545.5 2468.6 L548 2469.1 L550.5 2469.5 L553 2470 L555.5 2470.4 L558 2470.9 L560.5 2471.3 L563 2471.7 L565.5 2472.1 L568 2472.6 L570.5 2473 L573 2473.4 L575.5 2473.8 L578 2474.2 L580.5 2474.6 L583 2474.9 L585.5 2475.3 L588 2475.7 L590.5 2476.1 L593 2476.4 L595.5 2476.8 L598 2477.2 L600.5 2477.5 L603 2477.9 L605.5 2478.2 L608 2478.6 L610.5 2478.9 L613 2479.3 L615.5 2479.6 L618 2479.9 L620.5 2480.3 L623 2480.6 L625.5 2480.9 L628 2481.2 L630.5 2481.5 L633 2481.9 L635.5 2482.2 L638 2482.5 L640.5 2482.8 L643 2483.1 L645.5 2483.4 L648 2483.7 L650.5 2484 L653 2484.3 L655.5 2484.6 L658 2484.9 L660.5 2485.1 L663 2485.4 L665.5 2485.7 L668 2486 L670.5 2486.3 L673 2486.5 L675.5 2486.8 L678 2487.1 L680.5 2487.4 L683 2487.6 L685.5 2487.9 L688 2488.2 L690.5 2488.4 L693 2488.7 L695.5 2488.9 L698 2489.2 L700.5 2489.4 L703 2489.7 L705.5 2489.9 L708 2490.2 L710.5 2490.4 L713 2490.7 L715.5 2490.9 L718 2491.2 L720.5 2491.4 L723 2491.6 L725.5 2491.9 L728 2492.1 L730.5 2492.3 L733 2492.5 L735.5 2492.8 L738 2493 L740.5 2493.2 L743 2493.4 L745.5 2493.6 L748 2493.8 L750.5 2494 L753 2494.3 L754.8 2494.4" stroke="#ff00ff"/>
</g>
<rect x="117.7" y="1993.5" width="645.8" height="506.9" fill="none" stroke="#000" stroke-width="2.6" stroke-linejoin="miter"/>
<path d="M278.8 2500.4V2490.4M440.3 2500.4V2490.4M601.9 2500.4V2490.4M198 2500.4V2494.4M359.6 2500.4V2494.4M521.1 2500.4V2494.4M682.7 2500.4V2494.4M117.7 2468.6H127.7M117.7 2404.2H127.7M117.7 2339.8H127.7M117.7 2275.4H127.7M117.7 2211H127.7M117.7 2146.6H127.7M117.7 2082.2H127.7M117.7 2017.8H127.7M117.7 2436.4H123.7M117.7 2372H123.7M117.7 2307.6H123.7M117.7 2243.2H123.7M117.7 2178.8H123.7M117.7 2114.4H123.7M117.7 2050H123.7" fill="none" stroke="#000" stroke-width="2.6"/>
<text x="117.2" y="2540.4" font-size="31" text-anchor="middle" textLength="17.3" lengthAdjust="spacingAndGlyphs" stroke="#000" stroke-width="1.4">0</text>
<text x="278.8" y="2540.4" font-size="31" text-anchor="middle" textLength="17.3" lengthAdjust="spacingAndGlyphs" stroke="#000" stroke-width="1.4">5</text>
<text x="440.3" y="2540.4" font-size="31" text-anchor="middle" textLength="34" lengthAdjust="spacingAndGlyphs" stroke="#000" stroke-width="1.4">10</text>
<text x="601.9" y="2540.4" font-size="31" text-anchor="middle" textLength="34" lengthAdjust="spacingAndGlyphs" stroke="#000" stroke-width="1.4">15</text>
<text x="779.6" y="2540.4" font-size="31" text-anchor="end" textLength="34" lengthAdjust="spacingAndGlyphs" stroke="#000" stroke-width="1.4">20</text>
<text x="106.4" y="2479.4" font-size="31" text-anchor="end" textLength="17.3" lengthAdjust="spacingAndGlyphs" stroke="#000" stroke-width="1.4">5</text>
<text x="106.4" y="2415" font-size="31" text-anchor="end" textLength="34" lengthAdjust="spacingAndGlyphs" stroke="#000" stroke-width="1.4">10</text>
<text x="106.4" y="2350.6" font-size="31" text-anchor="end" textLength="34" lengthAdjust="spacingAndGlyphs" stroke="#000" stroke-width="1.4">15</text>
<text x="106.4" y="2286.2" font-size="31" text-anchor="end" textLength="34" lengthAdjust="spacingAndGlyphs" stroke="#000" stroke-width="1.4">20</text>
<text x="106.4" y="2221.8" font-size="31" text-anchor="end" textLength="34" lengthAdjust="spacingAndGlyphs" stroke="#000" stroke-width="1.4">25</text>
<text x="106.4" y="2157.4" font-size="31" text-anchor="end" textLength="34" lengthAdjust="spacingAndGlyphs" stroke="#000" stroke-width="1.4">30</text>
<text x="106.4" y="2093" font-size="31" text-anchor="end" textLength="34" lengthAdjust="spacingAndGlyphs" stroke="#000" stroke-width="1.4">35</text>
<text x="106.4" y="2028.6" font-size="31" text-anchor="end" textLength="34" lengthAdjust="spacingAndGlyphs" stroke="#000" stroke-width="1.4">40</text>
<text x="387.5" y="2592.8" font-size="40" textLength="25.5" lengthAdjust="spacingAndGlyphs" stroke="#000" stroke-width="1.6">V</text>
<text x="412.7" y="2604.3" font-size="22.5" textLength="26.3" lengthAdjust="spacingAndGlyphs" stroke="#000" stroke-width="1.1">gs</text>
<text x="438.6" y="2592.8" font-size="40" textLength="58.6" lengthAdjust="spacing" stroke="#000" stroke-width="1.6">(V)</text>
<g transform="translate(50.3 2355.6) rotate(-90)">
<text x="-1.2" y="0" font-size="39.5" textLength="28.5" lengthAdjust="spacingAndGlyphs" stroke="#000" stroke-width="1.6">G</text>
<text x="27" y="12" font-size="23" textLength="22" lengthAdjust="spacingAndGlyphs" stroke="#000" stroke-width="1.1">m</text>
<text x="47.5" y="0" font-size="39" textLength="173.5" lengthAdjust="spacingAndGlyphs" stroke="#000" stroke-width="1.6">(mA/mm)</text>
</g>
<text x="19.3" y="2017.4" font-size="29" textLength="39.5" lengthAdjust="spacing" stroke="#000" stroke-width="0.6">(d)</text>
<text x="569.6" y="2040" font-size="30" textLength="22.7" lengthAdjust="spacingAndGlyphs" stroke="#000" stroke-width="1.4">D</text>
<text x="592.5" y="2048.5" font-size="20" textLength="61.5" lengthAdjust="spacingAndGlyphs" stroke="#000" stroke-width="1.1">trench</text>
<path d="M570.4 2072.6H638.3" stroke="#000000" stroke-width="6.1" stroke-linecap="round" fill="none"/>
<text x="648.2" y="2084.2" font-size="31" textLength="50.7" lengthAdjust="spacingAndGlyphs" stroke="#000" stroke-width="1.4">200</text>
<text x="698.6" y="2084.2" font-size="30" textLength="44.3" lengthAdjust="spacingAndGlyphs" stroke="#000" stroke-width="1.4">nm</text>
<path d="M570.4 2109.4H638.3" stroke="#ff0000" stroke-width="6.1" stroke-linecap="round" fill="none"/>
<text x="648.2" y="2121" font-size="31" textLength="50.7" lengthAdjust="spacingAndGlyphs" stroke="#000" stroke-width="1.4">160</text>
<text x="698.6" y="2121" font-size="30" textLength="44.3" lengthAdjust="spacingAndGlyphs" stroke="#000" stroke-width="1.4">nm</text>
<path d="M570.4 2146.2H638.3" stroke="#00ff00" stroke-width="6.1" stroke-linecap="round" fill="none"/>
<text x="648.2" y="2157.8" font-size="31" textLength="50.7" lengthAdjust="spacingAndGlyphs" stroke="#000" stroke-width="1.4">120</text>
<text x="698.6" y="2157.8" font-size="30" textLength="44.3" lengthAdjust="spacingAndGlyphs" stroke="#000" stroke-width="1.4">nm</text>
<path d="M570.4 2183H638.3" stroke="#0000ff" stroke-width="6.1" stroke-linecap="round" fill="none"/>
<text x="648.2" y="2194.6" font-size="31" textLength="50.7" lengthAdjust="spacingAndGlyphs" stroke="#000" stroke-width="1.4">100</text>
<text x="698.6" y="2194.6" font-size="30" textLength="44.3" lengthAdjust="spacingAndGlyphs" stroke="#000" stroke-width="1.4">nm</text>
<path d="M570.4 2219.8H638.3" stroke="#00ffff" stroke-width="6.1" stroke-linecap="round" fill="none"/>
<text x="659.2" y="2231.4" font-size="31" textLength="34" lengthAdjust="spacingAndGlyphs" stroke="#000" stroke-width="1.4">80</text>
<text x="692.9" y="2231.4" font-size="30" textLength="44.3" lengthAdjust="spacingAndGlyphs" stroke="#000" stroke-width="1.4">nm</text>
<path d="M570.4 2256.6H638.3" stroke="#ff00ff" stroke-width="6.1" stroke-linecap="round" fill="none"/>
<text x="659.2" y="2268.2" font-size="31" textLength="34" lengthAdjust="spacingAndGlyphs" stroke="#000" stroke-width="1.4">40</text>
<text x="692.9" y="2268.2" font-size="30" textLength="44.3" lengthAdjust="spacingAndGlyphs" stroke="#000" stroke-width="1.4">nm</text>
</svg>
</body></html>
